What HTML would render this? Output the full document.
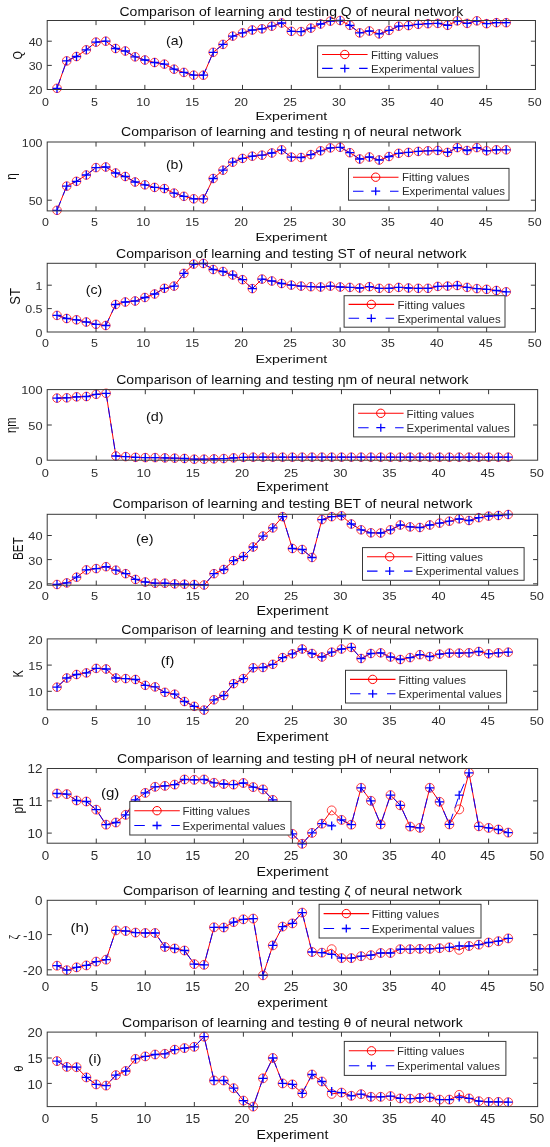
<!DOCTYPE html>
<html><head><meta charset="utf-8"><title>Comparison of learning and testing of neural network</title>
<style>
html,body{margin:0;padding:0;background:#fff}
svg{display:block;font-family:"Liberation Sans",sans-serif}
</style></head>
<body>
<svg width="550" height="1147" viewBox="0 0 550 1147">
<defs><filter id="soft" x="0" y="0" width="550" height="1147" filterUnits="userSpaceOnUse"><feGaussianBlur stdDeviation="0.42"/></filter></defs>
<rect width="550" height="1147" fill="#fff"/>
<g filter="url(#soft)">
<g id="panel1">
<text transform="translate(291.33 15.90) scale(1.169 1)" font-size="12.0" text-anchor="middle" fill="#111">Comparison of learning and testing Q of neural network</text>
<text transform="translate(291.33 120.20) scale(1.225 1)" font-size="11.6" text-anchor="middle" fill="#111">Experiment</text>
<text transform="translate(22.09 55.40) rotate(-90) scale(1 1.25)" font-size="10.8" text-anchor="middle" fill="#111">Q</text>
<text transform="translate(45.40 105.55) scale(1.100 1)" font-size="11.3" text-anchor="middle" fill="#2e2e2e">0</text>
<text transform="translate(94.33 105.55) scale(1.100 1)" font-size="11.3" text-anchor="middle" fill="#2e2e2e">5</text>
<text transform="translate(143.25 105.55) scale(1.100 1)" font-size="11.3" text-anchor="middle" fill="#2e2e2e">10</text>
<text transform="translate(192.18 105.55) scale(1.100 1)" font-size="11.3" text-anchor="middle" fill="#2e2e2e">15</text>
<text transform="translate(241.10 105.55) scale(1.100 1)" font-size="11.3" text-anchor="middle" fill="#2e2e2e">20</text>
<text transform="translate(290.03 105.55) scale(1.100 1)" font-size="11.3" text-anchor="middle" fill="#2e2e2e">25</text>
<text transform="translate(338.95 105.55) scale(1.100 1)" font-size="11.3" text-anchor="middle" fill="#2e2e2e">30</text>
<text transform="translate(387.88 105.55) scale(1.100 1)" font-size="11.3" text-anchor="middle" fill="#2e2e2e">35</text>
<text transform="translate(436.80 105.55) scale(1.100 1)" font-size="11.3" text-anchor="middle" fill="#2e2e2e">40</text>
<text transform="translate(485.73 105.55) scale(1.100 1)" font-size="11.3" text-anchor="middle" fill="#2e2e2e">45</text>
<text transform="translate(534.65 105.55) scale(1.100 1)" font-size="11.3" text-anchor="middle" fill="#2e2e2e">50</text>
<text transform="translate(42.50 94.45) scale(1.100 1)" font-size="11.3" text-anchor="end" fill="#2e2e2e">20</text>
<text transform="translate(42.50 70.25) scale(1.100 1)" font-size="11.3" text-anchor="end" fill="#2e2e2e">30</text>
<text transform="translate(42.50 46.05) scale(1.100 1)" font-size="11.3" text-anchor="end" fill="#2e2e2e">40</text>
<path d="M96.03 89.5v-4.6M96.03 20.5v4.6M144.85 89.5v-4.6M144.85 20.5v4.6M193.68 89.5v-4.6M193.68 20.5v4.6M242.50 89.5v-4.6M242.50 20.5v4.6M291.33 89.5v-4.6M291.33 20.5v4.6M340.15 89.5v-4.6M340.15 20.5v4.6M388.98 89.5v-4.6M388.98 20.5v4.6M437.80 89.5v-4.6M437.80 20.5v4.6M486.63 89.5v-4.6M486.63 20.5v4.6M47.2 65.4h4.6M535.45 65.4h-4.6M47.2 41.2h4.6M535.45 41.2h-4.6" stroke="#383838" stroke-width="1" fill="none"/>
<polyline fill="none" stroke="#f00" stroke-width="1" points="57.0,88.3 66.7,60.9 76.5,56.5 86.3,49.8 96.0,42.1 105.8,41.2 115.6,48.5 125.3,51.0 135.1,56.8 144.9,60.0 154.6,62.5 164.4,64.1 174.1,69.2 183.9,72.4 193.7,75.2 203.4,75.2 213.2,52.3 223.0,44.4 232.7,36.1 242.5,32.9 252.3,30.0 262.0,28.8 271.8,26.2 281.6,23.0 291.3,31.3 301.1,31.6 310.9,28.1 320.6,24.0 330.4,21.1 340.2,20.5 349.9,25.3 359.7,32.9 369.4,31.0 379.2,33.9 389.0,30.4 398.7,26.2 408.5,25.6 418.3,24.3 428.0,23.7 437.8,23.4 447.6,25.3 457.3,20.8 467.1,23.4 476.9,20.8 486.6,23.7 496.4,22.7 506.2,22.7"/>
<polyline fill="none" stroke="#00f" stroke-width="1" stroke-dasharray="10 6" points="57.0,88.3 66.7,60.9 76.5,56.5 86.3,49.8 96.0,42.1 105.8,41.2 115.6,48.5 125.3,51.0 135.1,56.8 144.9,60.0 154.6,62.5 164.4,64.1 174.1,69.2 183.9,72.4 193.7,75.2 203.4,75.2 213.2,52.3 223.0,44.4 232.7,36.1 242.5,32.9 252.3,30.0 262.0,28.8 271.8,26.2 281.6,23.0 291.3,31.3 301.1,31.6 310.9,28.1 320.6,24.0 330.4,21.1 340.2,20.5 349.9,25.3 359.7,32.9 369.4,31.0 379.2,33.9 389.0,30.4 398.7,26.2 408.5,25.6 418.3,24.3 428.0,23.7 437.8,23.4 447.6,25.3 457.3,20.8 467.1,23.4 476.9,20.8 486.6,23.7 496.4,22.7 506.2,22.7"/>
<g fill="none" stroke="#f22" stroke-width="0.85"><circle cx="57.0" cy="88.3" r="4.3"/><circle cx="66.7" cy="60.9" r="4.3"/><circle cx="76.5" cy="56.5" r="4.3"/><circle cx="86.3" cy="49.8" r="4.3"/><circle cx="96.0" cy="42.1" r="4.3"/><circle cx="105.8" cy="41.2" r="4.3"/><circle cx="115.6" cy="48.5" r="4.3"/><circle cx="125.3" cy="51.0" r="4.3"/><circle cx="135.1" cy="56.8" r="4.3"/><circle cx="144.9" cy="60.0" r="4.3"/><circle cx="154.6" cy="62.5" r="4.3"/><circle cx="164.4" cy="64.1" r="4.3"/><circle cx="174.1" cy="69.2" r="4.3"/><circle cx="183.9" cy="72.4" r="4.3"/><circle cx="193.7" cy="75.2" r="4.3"/><circle cx="203.4" cy="75.2" r="4.3"/><circle cx="213.2" cy="52.3" r="4.3"/><circle cx="223.0" cy="44.4" r="4.3"/><circle cx="232.7" cy="36.1" r="4.3"/><circle cx="242.5" cy="32.9" r="4.3"/><circle cx="252.3" cy="30.0" r="4.3"/><circle cx="262.0" cy="28.8" r="4.3"/><circle cx="271.8" cy="26.2" r="4.3"/><circle cx="281.6" cy="23.0" r="4.3"/><circle cx="291.3" cy="31.3" r="4.3"/><circle cx="301.1" cy="31.6" r="4.3"/><circle cx="310.9" cy="28.1" r="4.3"/><circle cx="320.6" cy="24.0" r="4.3"/><circle cx="330.4" cy="21.1" r="4.3"/><circle cx="340.2" cy="20.5" r="4.3"/><circle cx="349.9" cy="25.3" r="4.3"/><circle cx="359.7" cy="32.9" r="4.3"/><circle cx="369.4" cy="31.0" r="4.3"/><circle cx="379.2" cy="33.9" r="4.3"/><circle cx="389.0" cy="30.4" r="4.3"/><circle cx="398.7" cy="26.2" r="4.3"/><circle cx="408.5" cy="25.6" r="4.3"/><circle cx="418.3" cy="24.3" r="4.3"/><circle cx="428.0" cy="23.7" r="4.3"/><circle cx="437.8" cy="23.4" r="4.3"/><circle cx="447.6" cy="25.3" r="4.3"/><circle cx="457.3" cy="20.8" r="4.3"/><circle cx="467.1" cy="23.4" r="4.3"/><circle cx="476.9" cy="20.8" r="4.3"/><circle cx="486.6" cy="23.7" r="4.3"/><circle cx="496.4" cy="22.7" r="4.3"/><circle cx="506.2" cy="22.7" r="4.3"/></g>
<path fill="none" stroke="#00f" stroke-width="1.3" d="M52.6 88.3h8.8M57.0 83.9v8.8M62.3 60.9h8.8M66.7 56.5v8.8M72.1 56.5h8.8M76.5 52.1v8.8M81.9 49.8h8.8M86.3 45.4v8.8M91.6 42.1h8.8M96.0 37.7v8.8M101.4 41.2h8.8M105.8 36.8v8.8M111.2 48.5h8.8M115.6 44.1v8.8M120.9 51.0h8.8M125.3 46.6v8.8M130.7 56.8h8.8M135.1 52.4v8.8M140.5 60.0h8.8M144.9 55.6v8.8M150.2 62.5h8.8M154.6 58.1v8.8M160.0 64.1h8.8M164.4 59.7v8.8M169.7 69.2h8.8M174.1 64.8v8.8M179.5 72.4h8.8M183.9 68.0v8.8M189.3 75.2h8.8M193.7 70.8v8.8M199.0 75.2h8.8M203.4 70.8v8.8M208.8 52.3h8.8M213.2 47.9v8.8M218.6 44.4h8.8M223.0 40.0v8.8M228.3 36.1h8.8M232.7 31.7v8.8M238.1 32.9h8.8M242.5 28.5v8.8M247.9 30.0h8.8M252.3 25.6v8.8M257.6 28.8h8.8M262.0 24.4v8.8M267.4 26.2h8.8M271.8 21.8v8.8M277.2 23.0h8.8M281.6 18.6v8.8M286.9 31.3h8.8M291.3 26.9v8.8M296.7 31.6h8.8M301.1 27.2v8.8M306.5 28.1h8.8M310.9 23.7v8.8M316.2 24.0h8.8M320.6 19.6v8.8M326.0 21.1h8.8M330.4 16.7v8.8M335.8 20.5h8.8M340.2 16.1v8.8M345.5 25.3h8.8M349.9 20.9v8.8M355.3 32.9h8.8M359.7 28.5v8.8M365.0 31.0h8.8M369.4 26.6v8.8M374.8 33.9h8.8M379.2 29.5v8.8M384.6 30.4h8.8M389.0 26.0v8.8M394.3 26.2h8.8M398.7 21.8v8.8M404.1 25.6h8.8M408.5 21.2v8.8M413.9 24.3h8.8M418.3 19.9v8.8M423.6 23.7h8.8M428.0 19.3v8.8M433.4 23.4h8.8M437.8 19.0v8.8M443.2 25.3h8.8M447.6 20.9v8.8M452.9 20.8h8.8M457.3 16.4v8.8M462.7 23.4h8.8M467.1 19.0v8.8M472.5 20.8h8.8M476.9 16.4v8.8M482.2 23.7h8.8M486.6 19.3v8.8M492.0 22.7h8.8M496.4 18.3v8.8M501.8 22.7h8.8M506.2 18.3v8.8"/>
<rect x="47.2" y="20.5" width="488.25" height="69.00" fill="none" stroke="#383838" stroke-width="1"/>
<text transform="translate(174.70 44.70) scale(1.100 1)" font-size="12.8" text-anchor="middle" fill="#111">(a)</text>
<rect x="317.6" y="45.8" width="161.60" height="31.50" fill="#fff" stroke="#383838" stroke-width="1"/>
<path d="M322.1 54.5H367.6" stroke="#f00" stroke-width="1.1"/>
<circle cx="344.8" cy="54.5" r="4.2" fill="none" stroke="#f00" stroke-width="1"/>
<path d="M322.1 68.4h10.5M359.1 68.4H367.6" stroke="#00f" stroke-width="1.1"/>
<path d="M340.3 68.4h9M344.8 64.4v8" stroke="#00f" stroke-width="1.3"/>
<text transform="translate(371.00 58.73) scale(1.147 1)" font-size="10.0" text-anchor="start" fill="#2e2e2e">Fitting values</text>
<text transform="translate(371.00 72.62) scale(1.147 1)" font-size="10.0" text-anchor="start" fill="#2e2e2e">Experimental values</text>
</g>
<g id="panel2">
<text transform="translate(291.33 135.80) scale(1.169 1)" font-size="12.0" text-anchor="middle" fill="#111">Comparison of learning and testing η of neural network</text>
<text transform="translate(291.33 240.60) scale(1.225 1)" font-size="11.6" text-anchor="middle" fill="#111">Experiment</text>
<text transform="translate(16.12 176.45) rotate(-90) scale(1 1.3)" font-size="11.5" text-anchor="middle" fill="#111">η</text>
<text transform="translate(45.40 225.65) scale(1.100 1)" font-size="11.3" text-anchor="middle" fill="#2e2e2e">0</text>
<text transform="translate(94.33 225.65) scale(1.100 1)" font-size="11.3" text-anchor="middle" fill="#2e2e2e">5</text>
<text transform="translate(143.25 225.65) scale(1.100 1)" font-size="11.3" text-anchor="middle" fill="#2e2e2e">10</text>
<text transform="translate(192.18 225.65) scale(1.100 1)" font-size="11.3" text-anchor="middle" fill="#2e2e2e">15</text>
<text transform="translate(241.10 225.65) scale(1.100 1)" font-size="11.3" text-anchor="middle" fill="#2e2e2e">20</text>
<text transform="translate(290.03 225.65) scale(1.100 1)" font-size="11.3" text-anchor="middle" fill="#2e2e2e">25</text>
<text transform="translate(338.95 225.65) scale(1.100 1)" font-size="11.3" text-anchor="middle" fill="#2e2e2e">30</text>
<text transform="translate(387.88 225.65) scale(1.100 1)" font-size="11.3" text-anchor="middle" fill="#2e2e2e">35</text>
<text transform="translate(436.80 225.65) scale(1.100 1)" font-size="11.3" text-anchor="middle" fill="#2e2e2e">40</text>
<text transform="translate(485.73 225.65) scale(1.100 1)" font-size="11.3" text-anchor="middle" fill="#2e2e2e">45</text>
<text transform="translate(534.65 225.65) scale(1.100 1)" font-size="11.3" text-anchor="middle" fill="#2e2e2e">50</text>
<text transform="translate(42.50 205.05) scale(1.100 1)" font-size="11.3" text-anchor="end" fill="#2e2e2e">50</text>
<text transform="translate(42.50 146.85) scale(1.100 1)" font-size="11.3" text-anchor="end" fill="#2e2e2e">100</text>
<path d="M96.03 210.9v-4.6M96.03 142.0v4.6M144.85 210.9v-4.6M144.85 142.0v4.6M193.68 210.9v-4.6M193.68 142.0v4.6M242.50 210.9v-4.6M242.50 142.0v4.6M291.33 210.9v-4.6M291.33 142.0v4.6M340.15 210.9v-4.6M340.15 142.0v4.6M388.98 210.9v-4.6M388.98 142.0v4.6M437.80 210.9v-4.6M437.80 142.0v4.6M486.63 210.9v-4.6M486.63 142.0v4.6M47.2 200.2h4.6M535.45 200.2h-4.6" stroke="#383838" stroke-width="1" fill="none"/>
<polyline fill="none" stroke="#f00" stroke-width="1" points="57.0,210.3 66.7,186.1 76.5,181.3 86.3,175.0 96.0,167.6 105.8,167.0 115.6,173.0 125.3,176.5 135.1,182.0 144.9,184.8 154.6,187.4 164.4,188.6 174.1,193.1 183.9,196.3 193.7,198.8 203.4,198.9 213.2,178.5 223.0,170.2 232.7,162.2 242.5,158.4 252.3,156.2 262.0,155.2 271.8,153.0 281.6,149.8 291.3,157.1 301.1,157.5 310.9,154.6 320.6,150.8 330.4,147.9 340.2,147.3 349.9,152.7 359.7,159.0 369.4,157.0 379.2,160.0 389.0,156.5 398.7,153.3 408.5,152.4 418.3,151.4 428.0,150.8 437.8,150.5 447.6,152.4 457.3,147.6 467.1,150.5 476.9,147.6 486.6,150.8 496.4,149.8 506.2,149.8"/>
<polyline fill="none" stroke="#00f" stroke-width="1" stroke-dasharray="10 6" points="57.0,210.3 66.7,186.1 76.5,181.3 86.3,175.0 96.0,167.6 105.8,167.0 115.6,173.0 125.3,176.5 135.1,182.0 144.9,184.8 154.6,187.4 164.4,188.6 174.1,193.1 183.9,196.3 193.7,198.8 203.4,198.9 213.2,178.5 223.0,170.2 232.7,162.2 242.5,158.4 252.3,156.2 262.0,155.2 271.8,153.0 281.6,149.8 291.3,157.1 301.1,157.5 310.9,154.6 320.6,150.8 330.4,147.9 340.2,147.3 349.9,152.7 359.7,159.0 369.4,157.0 379.2,160.0 389.0,156.5 398.7,153.3 408.5,152.4 418.3,151.4 428.0,150.8 437.8,150.5 447.6,152.4 457.3,147.6 467.1,150.5 476.9,147.6 486.6,150.8 496.4,149.8 506.2,149.8"/>
<g fill="none" stroke="#f22" stroke-width="0.85"><circle cx="57.0" cy="210.3" r="4.3"/><circle cx="66.7" cy="186.1" r="4.3"/><circle cx="76.5" cy="181.3" r="4.3"/><circle cx="86.3" cy="175.0" r="4.3"/><circle cx="96.0" cy="167.6" r="4.3"/><circle cx="105.8" cy="167.0" r="4.3"/><circle cx="115.6" cy="173.0" r="4.3"/><circle cx="125.3" cy="176.5" r="4.3"/><circle cx="135.1" cy="182.0" r="4.3"/><circle cx="144.9" cy="184.8" r="4.3"/><circle cx="154.6" cy="187.4" r="4.3"/><circle cx="164.4" cy="188.6" r="4.3"/><circle cx="174.1" cy="193.1" r="4.3"/><circle cx="183.9" cy="196.3" r="4.3"/><circle cx="193.7" cy="198.8" r="4.3"/><circle cx="203.4" cy="198.9" r="4.3"/><circle cx="213.2" cy="178.5" r="4.3"/><circle cx="223.0" cy="170.2" r="4.3"/><circle cx="232.7" cy="162.2" r="4.3"/><circle cx="242.5" cy="158.4" r="4.3"/><circle cx="252.3" cy="156.2" r="4.3"/><circle cx="262.0" cy="155.2" r="4.3"/><circle cx="271.8" cy="153.0" r="4.3"/><circle cx="281.6" cy="149.8" r="4.3"/><circle cx="291.3" cy="157.1" r="4.3"/><circle cx="301.1" cy="157.5" r="4.3"/><circle cx="310.9" cy="154.6" r="4.3"/><circle cx="320.6" cy="150.8" r="4.3"/><circle cx="330.4" cy="147.9" r="4.3"/><circle cx="340.2" cy="147.3" r="4.3"/><circle cx="349.9" cy="152.7" r="4.3"/><circle cx="359.7" cy="159.0" r="4.3"/><circle cx="369.4" cy="157.0" r="4.3"/><circle cx="379.2" cy="160.0" r="4.3"/><circle cx="389.0" cy="156.5" r="4.3"/><circle cx="398.7" cy="153.3" r="4.3"/><circle cx="408.5" cy="152.4" r="4.3"/><circle cx="418.3" cy="151.4" r="4.3"/><circle cx="428.0" cy="150.8" r="4.3"/><circle cx="437.8" cy="150.5" r="4.3"/><circle cx="447.6" cy="152.4" r="4.3"/><circle cx="457.3" cy="147.6" r="4.3"/><circle cx="467.1" cy="150.5" r="4.3"/><circle cx="476.9" cy="147.6" r="4.3"/><circle cx="486.6" cy="150.8" r="4.3"/><circle cx="496.4" cy="149.8" r="4.3"/><circle cx="506.2" cy="149.8" r="4.3"/></g>
<path fill="none" stroke="#00f" stroke-width="1.3" d="M52.6 210.3h8.8M57.0 205.9v8.8M62.3 186.1h8.8M66.7 181.7v8.8M72.1 181.3h8.8M76.5 176.9v8.8M81.9 175.0h8.8M86.3 170.6v8.8M91.6 167.6h8.8M96.0 163.2v8.8M101.4 167.0h8.8M105.8 162.6v8.8M111.2 173.0h8.8M115.6 168.6v8.8M120.9 176.5h8.8M125.3 172.1v8.8M130.7 182.0h8.8M135.1 177.6v8.8M140.5 184.8h8.8M144.9 180.4v8.8M150.2 187.4h8.8M154.6 183.0v8.8M160.0 188.6h8.8M164.4 184.2v8.8M169.7 193.1h8.8M174.1 188.7v8.8M179.5 196.3h8.8M183.9 191.9v8.8M189.3 198.8h8.8M193.7 194.4v8.8M199.0 198.9h8.8M203.4 194.5v8.8M208.8 178.5h8.8M213.2 174.1v8.8M218.6 170.2h8.8M223.0 165.8v8.8M228.3 162.2h8.8M232.7 157.8v8.8M238.1 158.4h8.8M242.5 154.0v8.8M247.9 156.2h8.8M252.3 151.8v8.8M257.6 155.2h8.8M262.0 150.8v8.8M267.4 153.0h8.8M271.8 148.6v8.8M277.2 149.8h8.8M281.6 145.4v8.8M286.9 157.1h8.8M291.3 152.7v8.8M296.7 157.5h8.8M301.1 153.1v8.8M306.5 154.6h8.8M310.9 150.2v8.8M316.2 150.8h8.8M320.6 146.4v8.8M326.0 147.9h8.8M330.4 143.5v8.8M335.8 147.3h8.8M340.2 142.9v8.8M345.5 152.7h8.8M349.9 148.3v8.8M355.3 159.0h8.8M359.7 154.6v8.8M365.0 157.0h8.8M369.4 152.6v8.8M374.8 160.0h8.8M379.2 155.6v8.8M384.6 156.5h8.8M389.0 152.1v8.8M394.3 153.3h8.8M398.7 148.9v8.8M404.1 152.4h8.8M408.5 148.0v8.8M413.9 151.4h8.8M418.3 147.0v8.8M423.6 150.8h8.8M428.0 146.4v8.8M433.4 150.5h8.8M437.8 146.1v8.8M443.2 152.4h8.8M447.6 148.0v8.8M452.9 147.6h8.8M457.3 143.2v8.8M462.7 150.5h8.8M467.1 146.1v8.8M472.5 147.6h8.8M476.9 143.2v8.8M482.2 150.8h8.8M486.6 146.4v8.8M492.0 149.8h8.8M496.4 145.4v8.8M501.8 149.8h8.8M506.2 145.4v8.8"/>
<rect x="47.2" y="142.0" width="488.25" height="68.90" fill="none" stroke="#383838" stroke-width="1"/>
<text transform="translate(174.50 168.90) scale(1.100 1)" font-size="12.8" text-anchor="middle" fill="#111">(b)</text>
<rect x="348.5" y="168.4" width="160.50" height="31.80" fill="#fff" stroke="#383838" stroke-width="1"/>
<path d="M353.0 177.2H398.5" stroke="#f00" stroke-width="1.1"/>
<circle cx="375.7" cy="177.2" r="4.2" fill="none" stroke="#f00" stroke-width="1"/>
<path d="M353.0 191.2h10.5M390.0 191.2H398.5" stroke="#00f" stroke-width="1.1"/>
<path d="M371.2 191.2h9M375.7 187.2v8" stroke="#00f" stroke-width="1.3"/>
<text transform="translate(401.90 181.41) scale(1.147 1)" font-size="10.0" text-anchor="start" fill="#2e2e2e">Fitting values</text>
<text transform="translate(401.90 195.43) scale(1.147 1)" font-size="10.0" text-anchor="start" fill="#2e2e2e">Experimental values</text>
</g>
<g id="panel3">
<text transform="translate(291.33 258.30) scale(1.169 1)" font-size="12.0" text-anchor="middle" fill="#111">Comparison of learning and testing ST of neural network</text>
<text transform="translate(291.33 362.60) scale(1.225 1)" font-size="11.6" text-anchor="middle" fill="#111">Experiment</text>
<text transform="translate(19.85 296.45) rotate(-90) scale(1 1.15)" font-size="13.0" text-anchor="middle" fill="#111">ST</text>
<text transform="translate(45.40 347.45) scale(1.100 1)" font-size="11.3" text-anchor="middle" fill="#2e2e2e">0</text>
<text transform="translate(94.33 347.45) scale(1.100 1)" font-size="11.3" text-anchor="middle" fill="#2e2e2e">5</text>
<text transform="translate(143.25 347.45) scale(1.100 1)" font-size="11.3" text-anchor="middle" fill="#2e2e2e">10</text>
<text transform="translate(192.18 347.45) scale(1.100 1)" font-size="11.3" text-anchor="middle" fill="#2e2e2e">15</text>
<text transform="translate(241.10 347.45) scale(1.100 1)" font-size="11.3" text-anchor="middle" fill="#2e2e2e">20</text>
<text transform="translate(290.03 347.45) scale(1.100 1)" font-size="11.3" text-anchor="middle" fill="#2e2e2e">25</text>
<text transform="translate(338.95 347.45) scale(1.100 1)" font-size="11.3" text-anchor="middle" fill="#2e2e2e">30</text>
<text transform="translate(387.88 347.45) scale(1.100 1)" font-size="11.3" text-anchor="middle" fill="#2e2e2e">35</text>
<text transform="translate(436.80 347.45) scale(1.100 1)" font-size="11.3" text-anchor="middle" fill="#2e2e2e">40</text>
<text transform="translate(485.73 347.45) scale(1.100 1)" font-size="11.3" text-anchor="middle" fill="#2e2e2e">45</text>
<text transform="translate(534.65 347.45) scale(1.100 1)" font-size="11.3" text-anchor="middle" fill="#2e2e2e">50</text>
<text transform="translate(42.50 336.65) scale(1.100 1)" font-size="11.3" text-anchor="end" fill="#2e2e2e">0</text>
<text transform="translate(42.50 313.45) scale(1.100 1)" font-size="11.3" text-anchor="end" fill="#2e2e2e">0.5</text>
<text transform="translate(42.50 290.05) scale(1.100 1)" font-size="11.3" text-anchor="end" fill="#2e2e2e">1</text>
<path d="M96.03 332.0v-4.6M96.03 263.3v4.6M144.85 332.0v-4.6M144.85 263.3v4.6M193.68 332.0v-4.6M193.68 263.3v4.6M242.50 332.0v-4.6M242.50 263.3v4.6M291.33 332.0v-4.6M291.33 263.3v4.6M340.15 332.0v-4.6M340.15 263.3v4.6M388.98 332.0v-4.6M388.98 263.3v4.6M437.80 332.0v-4.6M437.80 263.3v4.6M486.63 332.0v-4.6M486.63 263.3v4.6M47.2 308.6h4.6M535.45 308.6h-4.6M47.2 285.2h4.6M535.45 285.2h-4.6" stroke="#383838" stroke-width="1" fill="none"/>
<polyline fill="none" stroke="#f00" stroke-width="1" points="57.0,315.4 66.7,318.5 76.5,319.8 86.3,322.0 96.0,324.3 105.8,325.5 115.6,304.5 125.3,302.0 135.1,301.0 144.9,297.5 154.6,294.0 164.4,288.3 174.1,286.1 183.9,273.4 193.7,264.1 203.4,263.5 213.2,269.5 223.0,271.5 232.7,275.0 242.5,279.7 252.3,288.6 262.0,279.1 271.8,281.0 281.6,283.5 291.3,285.1 301.1,286.1 310.9,286.7 320.6,287.0 330.4,286.1 340.2,287.0 349.9,287.4 359.7,288.0 369.4,286.7 379.2,288.3 389.0,288.3 398.7,287.4 408.5,288.0 418.3,288.3 428.0,288.3 437.8,286.4 447.6,286.1 457.3,285.5 467.1,287.4 476.9,288.6 486.6,289.3 496.4,290.5 506.2,291.8"/>
<polyline fill="none" stroke="#00f" stroke-width="1" stroke-dasharray="10 6" points="57.0,315.4 66.7,318.5 76.5,319.8 86.3,322.0 96.0,324.3 105.8,325.5 115.6,304.5 125.3,302.0 135.1,301.0 144.9,297.5 154.6,294.0 164.4,288.3 174.1,286.1 183.9,273.4 193.7,264.1 203.4,263.5 213.2,269.5 223.0,271.5 232.7,275.0 242.5,279.7 252.3,288.6 262.0,279.1 271.8,281.0 281.6,283.5 291.3,285.1 301.1,286.1 310.9,286.7 320.6,287.0 330.4,286.1 340.2,287.0 349.9,287.4 359.7,288.0 369.4,286.7 379.2,288.3 389.0,288.3 398.7,287.4 408.5,288.0 418.3,288.3 428.0,288.3 437.8,286.4 447.6,286.1 457.3,285.5 467.1,287.4 476.9,288.6 486.6,289.3 496.4,290.5 506.2,291.8"/>
<g fill="none" stroke="#f22" stroke-width="0.85"><circle cx="57.0" cy="315.4" r="4.3"/><circle cx="66.7" cy="318.5" r="4.3"/><circle cx="76.5" cy="319.8" r="4.3"/><circle cx="86.3" cy="322.0" r="4.3"/><circle cx="96.0" cy="324.3" r="4.3"/><circle cx="105.8" cy="325.5" r="4.3"/><circle cx="115.6" cy="304.5" r="4.3"/><circle cx="125.3" cy="302.0" r="4.3"/><circle cx="135.1" cy="301.0" r="4.3"/><circle cx="144.9" cy="297.5" r="4.3"/><circle cx="154.6" cy="294.0" r="4.3"/><circle cx="164.4" cy="288.3" r="4.3"/><circle cx="174.1" cy="286.1" r="4.3"/><circle cx="183.9" cy="273.4" r="4.3"/><circle cx="193.7" cy="264.1" r="4.3"/><circle cx="203.4" cy="263.5" r="4.3"/><circle cx="213.2" cy="269.5" r="4.3"/><circle cx="223.0" cy="271.5" r="4.3"/><circle cx="232.7" cy="275.0" r="4.3"/><circle cx="242.5" cy="279.7" r="4.3"/><circle cx="252.3" cy="288.6" r="4.3"/><circle cx="262.0" cy="279.1" r="4.3"/><circle cx="271.8" cy="281.0" r="4.3"/><circle cx="281.6" cy="283.5" r="4.3"/><circle cx="291.3" cy="285.1" r="4.3"/><circle cx="301.1" cy="286.1" r="4.3"/><circle cx="310.9" cy="286.7" r="4.3"/><circle cx="320.6" cy="287.0" r="4.3"/><circle cx="330.4" cy="286.1" r="4.3"/><circle cx="340.2" cy="287.0" r="4.3"/><circle cx="349.9" cy="287.4" r="4.3"/><circle cx="359.7" cy="288.0" r="4.3"/><circle cx="369.4" cy="286.7" r="4.3"/><circle cx="379.2" cy="288.3" r="4.3"/><circle cx="389.0" cy="288.3" r="4.3"/><circle cx="398.7" cy="287.4" r="4.3"/><circle cx="408.5" cy="288.0" r="4.3"/><circle cx="418.3" cy="288.3" r="4.3"/><circle cx="428.0" cy="288.3" r="4.3"/><circle cx="437.8" cy="286.4" r="4.3"/><circle cx="447.6" cy="286.1" r="4.3"/><circle cx="457.3" cy="285.5" r="4.3"/><circle cx="467.1" cy="287.4" r="4.3"/><circle cx="476.9" cy="288.6" r="4.3"/><circle cx="486.6" cy="289.3" r="4.3"/><circle cx="496.4" cy="290.5" r="4.3"/><circle cx="506.2" cy="291.8" r="4.3"/></g>
<path fill="none" stroke="#00f" stroke-width="1.3" d="M52.6 315.4h8.8M57.0 311.0v8.8M62.3 318.5h8.8M66.7 314.1v8.8M72.1 319.8h8.8M76.5 315.4v8.8M81.9 322.0h8.8M86.3 317.6v8.8M91.6 324.3h8.8M96.0 319.9v8.8M101.4 325.5h8.8M105.8 321.1v8.8M111.2 304.5h8.8M115.6 300.1v8.8M120.9 302.0h8.8M125.3 297.6v8.8M130.7 301.0h8.8M135.1 296.6v8.8M140.5 297.5h8.8M144.9 293.1v8.8M150.2 294.0h8.8M154.6 289.6v8.8M160.0 288.3h8.8M164.4 283.9v8.8M169.7 286.1h8.8M174.1 281.7v8.8M179.5 273.4h8.8M183.9 269.0v8.8M189.3 264.1h8.8M193.7 259.7v8.8M199.0 263.5h8.8M203.4 259.1v8.8M208.8 269.5h8.8M213.2 265.1v8.8M218.6 271.5h8.8M223.0 267.1v8.8M228.3 275.0h8.8M232.7 270.6v8.8M238.1 279.7h8.8M242.5 275.3v8.8M247.9 288.6h8.8M252.3 284.2v8.8M257.6 279.1h8.8M262.0 274.7v8.8M267.4 281.0h8.8M271.8 276.6v8.8M277.2 283.5h8.8M281.6 279.1v8.8M286.9 285.1h8.8M291.3 280.7v8.8M296.7 286.1h8.8M301.1 281.7v8.8M306.5 286.7h8.8M310.9 282.3v8.8M316.2 287.0h8.8M320.6 282.6v8.8M326.0 286.1h8.8M330.4 281.7v8.8M335.8 287.0h8.8M340.2 282.6v8.8M345.5 287.4h8.8M349.9 283.0v8.8M355.3 288.0h8.8M359.7 283.6v8.8M365.0 286.7h8.8M369.4 282.3v8.8M374.8 288.3h8.8M379.2 283.9v8.8M384.6 288.3h8.8M389.0 283.9v8.8M394.3 287.4h8.8M398.7 283.0v8.8M404.1 288.0h8.8M408.5 283.6v8.8M413.9 288.3h8.8M418.3 283.9v8.8M423.6 288.3h8.8M428.0 283.9v8.8M433.4 286.4h8.8M437.8 282.0v8.8M443.2 286.1h8.8M447.6 281.7v8.8M452.9 285.5h8.8M457.3 281.1v8.8M462.7 287.4h8.8M467.1 283.0v8.8M472.5 288.6h8.8M476.9 284.2v8.8M482.2 289.3h8.8M486.6 284.9v8.8M492.0 290.5h8.8M496.4 286.1v8.8M501.8 291.8h8.8M506.2 287.4v8.8"/>
<rect x="47.2" y="263.3" width="488.25" height="68.70" fill="none" stroke="#383838" stroke-width="1"/>
<text transform="translate(94.00 294.30) scale(1.100 1)" font-size="12.8" text-anchor="middle" fill="#111">(c)</text>
<rect x="344.1" y="295.7" width="160.90" height="31.50" fill="#fff" stroke="#383838" stroke-width="1"/>
<path d="M348.6 304.4H394.1" stroke="#f00" stroke-width="1.1"/>
<circle cx="371.3" cy="304.4" r="4.2" fill="none" stroke="#f00" stroke-width="1"/>
<path d="M348.6 318.3h10.5M385.6 318.3H394.1" stroke="#00f" stroke-width="1.1"/>
<path d="M366.8 318.3h9M371.3 314.3v8" stroke="#00f" stroke-width="1.3"/>
<text transform="translate(397.50 308.63) scale(1.147 1)" font-size="10.0" text-anchor="start" fill="#2e2e2e">Fitting values</text>
<text transform="translate(397.50 322.52) scale(1.147 1)" font-size="10.0" text-anchor="start" fill="#2e2e2e">Experimental values</text>
</g>
<g id="panel4">
<text transform="translate(292.43 383.80) scale(1.141 1)" font-size="12.3" text-anchor="middle" fill="#111">Comparison of learning and testing ηm of neural network</text>
<text transform="translate(292.43 490.70) scale(1.195 1)" font-size="11.9" text-anchor="middle" fill="#111">Experiment</text>
<text transform="translate(15.97 425.30) rotate(-90) scale(1 1.25)" font-size="11.2" text-anchor="middle" fill="#111">ηm</text>
<text transform="translate(45.40 476.65) scale(1.100 1)" font-size="11.6" text-anchor="middle" fill="#2e2e2e">0</text>
<text transform="translate(94.55 476.65) scale(1.100 1)" font-size="11.6" text-anchor="middle" fill="#2e2e2e">5</text>
<text transform="translate(143.69 476.65) scale(1.100 1)" font-size="11.6" text-anchor="middle" fill="#2e2e2e">10</text>
<text transform="translate(192.83 476.65) scale(1.100 1)" font-size="11.6" text-anchor="middle" fill="#2e2e2e">15</text>
<text transform="translate(241.98 476.65) scale(1.100 1)" font-size="11.6" text-anchor="middle" fill="#2e2e2e">20</text>
<text transform="translate(291.12 476.65) scale(1.100 1)" font-size="11.6" text-anchor="middle" fill="#2e2e2e">25</text>
<text transform="translate(340.27 476.65) scale(1.100 1)" font-size="11.6" text-anchor="middle" fill="#2e2e2e">30</text>
<text transform="translate(389.41 476.65) scale(1.100 1)" font-size="11.6" text-anchor="middle" fill="#2e2e2e">35</text>
<text transform="translate(438.56 476.65) scale(1.100 1)" font-size="11.6" text-anchor="middle" fill="#2e2e2e">40</text>
<text transform="translate(487.70 476.65) scale(1.100 1)" font-size="11.6" text-anchor="middle" fill="#2e2e2e">45</text>
<text transform="translate(536.85 476.65) scale(1.100 1)" font-size="11.6" text-anchor="middle" fill="#2e2e2e">50</text>
<text transform="translate(42.50 465.15) scale(1.100 1)" font-size="11.6" text-anchor="end" fill="#2e2e2e">0</text>
<text transform="translate(42.50 429.95) scale(1.100 1)" font-size="11.6" text-anchor="end" fill="#2e2e2e">50</text>
<text transform="translate(42.50 394.35) scale(1.100 1)" font-size="11.6" text-anchor="end" fill="#2e2e2e">100</text>
<path d="M96.25 460.2v-4.6M96.25 389.6v4.6M145.29 460.2v-4.6M145.29 389.6v4.6M194.33 460.2v-4.6M194.33 389.6v4.6M243.38 460.2v-4.6M243.38 389.6v4.6M292.43 460.2v-4.6M292.43 389.6v4.6M341.47 460.2v-4.6M341.47 389.6v4.6M390.51 460.2v-4.6M390.51 389.6v4.6M439.56 460.2v-4.6M439.56 389.6v4.6M488.60 460.2v-4.6M488.60 389.6v4.6M47.2 425.0h4.6M537.65 425.0h-4.6" stroke="#383838" stroke-width="1" fill="none"/>
<polyline fill="none" stroke="#f00" stroke-width="1" points="57.0,398.1 66.8,397.8 76.6,396.8 86.4,396.5 96.2,394.3 106.1,393.3 115.9,456.0 125.7,456.6 135.5,457.3 145.3,457.6 155.1,457.6 164.9,457.9 174.7,458.2 184.5,458.5 194.3,459.2 204.1,459.2 214.0,458.9 223.8,458.6 233.6,457.9 243.4,457.3 253.2,457.2 263.0,457.2 272.8,457.2 282.6,457.2 292.4,457.2 302.2,457.2 312.0,457.2 321.9,457.2 331.7,457.2 341.5,457.2 351.3,457.2 361.1,457.2 370.9,457.2 380.7,457.2 390.5,457.2 400.3,457.2 410.1,457.2 419.9,457.2 429.8,457.2 439.6,457.2 449.4,457.2 459.2,457.2 469.0,457.2 478.8,457.2 488.6,457.2 498.4,457.2 508.2,457.2"/>
<polyline fill="none" stroke="#00f" stroke-width="1" stroke-dasharray="10 6" points="57.0,398.1 66.8,397.8 76.6,396.8 86.4,396.5 96.2,394.3 106.1,393.3 115.9,456.0 125.7,456.6 135.5,457.3 145.3,457.6 155.1,457.6 164.9,457.9 174.7,458.2 184.5,458.5 194.3,459.2 204.1,459.2 214.0,458.9 223.8,458.6 233.6,457.9 243.4,457.3 253.2,457.2 263.0,457.2 272.8,457.2 282.6,457.2 292.4,457.2 302.2,457.2 312.0,457.2 321.9,457.2 331.7,457.2 341.5,457.2 351.3,457.2 361.1,457.2 370.9,457.2 380.7,457.2 390.5,457.2 400.3,457.2 410.1,457.2 419.9,457.2 429.8,457.2 439.6,457.2 449.4,457.2 459.2,457.2 469.0,457.2 478.8,457.2 488.6,457.2 498.4,457.2 508.2,457.2"/>
<g fill="none" stroke="#f22" stroke-width="0.85"><circle cx="57.0" cy="398.1" r="4.3"/><circle cx="66.8" cy="397.8" r="4.3"/><circle cx="76.6" cy="396.8" r="4.3"/><circle cx="86.4" cy="396.5" r="4.3"/><circle cx="96.2" cy="394.3" r="4.3"/><circle cx="106.1" cy="393.3" r="4.3"/><circle cx="115.9" cy="456.0" r="4.3"/><circle cx="125.7" cy="456.6" r="4.3"/><circle cx="135.5" cy="457.3" r="4.3"/><circle cx="145.3" cy="457.6" r="4.3"/><circle cx="155.1" cy="457.6" r="4.3"/><circle cx="164.9" cy="457.9" r="4.3"/><circle cx="174.7" cy="458.2" r="4.3"/><circle cx="184.5" cy="458.5" r="4.3"/><circle cx="194.3" cy="459.2" r="4.3"/><circle cx="204.1" cy="459.2" r="4.3"/><circle cx="214.0" cy="458.9" r="4.3"/><circle cx="223.8" cy="458.6" r="4.3"/><circle cx="233.6" cy="457.9" r="4.3"/><circle cx="243.4" cy="457.3" r="4.3"/><circle cx="253.2" cy="457.2" r="4.3"/><circle cx="263.0" cy="457.2" r="4.3"/><circle cx="272.8" cy="457.2" r="4.3"/><circle cx="282.6" cy="457.2" r="4.3"/><circle cx="292.4" cy="457.2" r="4.3"/><circle cx="302.2" cy="457.2" r="4.3"/><circle cx="312.0" cy="457.2" r="4.3"/><circle cx="321.9" cy="457.2" r="4.3"/><circle cx="331.7" cy="457.2" r="4.3"/><circle cx="341.5" cy="457.2" r="4.3"/><circle cx="351.3" cy="457.2" r="4.3"/><circle cx="361.1" cy="457.2" r="4.3"/><circle cx="370.9" cy="457.2" r="4.3"/><circle cx="380.7" cy="457.2" r="4.3"/><circle cx="390.5" cy="457.2" r="4.3"/><circle cx="400.3" cy="457.2" r="4.3"/><circle cx="410.1" cy="457.2" r="4.3"/><circle cx="419.9" cy="457.2" r="4.3"/><circle cx="429.8" cy="457.2" r="4.3"/><circle cx="439.6" cy="457.2" r="4.3"/><circle cx="449.4" cy="457.2" r="4.3"/><circle cx="459.2" cy="457.2" r="4.3"/><circle cx="469.0" cy="457.2" r="4.3"/><circle cx="478.8" cy="457.2" r="4.3"/><circle cx="488.6" cy="457.2" r="4.3"/><circle cx="498.4" cy="457.2" r="4.3"/><circle cx="508.2" cy="457.2" r="4.3"/></g>
<path fill="none" stroke="#00f" stroke-width="1.3" d="M52.6 398.1h8.8M57.0 393.7v8.8M62.4 397.8h8.8M66.8 393.4v8.8M72.2 396.8h8.8M76.6 392.4v8.8M82.0 396.5h8.8M86.4 392.1v8.8M91.8 394.3h8.8M96.2 389.9v8.8M101.7 393.3h8.8M106.1 388.9v8.8M111.5 456.0h8.8M115.9 451.6v8.8M121.3 456.6h8.8M125.7 452.2v8.8M131.1 457.3h8.8M135.5 452.9v8.8M140.9 457.6h8.8M145.3 453.2v8.8M150.7 457.6h8.8M155.1 453.2v8.8M160.5 457.9h8.8M164.9 453.5v8.8M170.3 458.2h8.8M174.7 453.8v8.8M180.1 458.5h8.8M184.5 454.1v8.8M189.9 459.2h8.8M194.3 454.8v8.8M199.7 459.2h8.8M204.1 454.8v8.8M209.6 458.9h8.8M214.0 454.5v8.8M219.4 458.6h8.8M223.8 454.2v8.8M229.2 457.9h8.8M233.6 453.5v8.8M239.0 457.3h8.8M243.4 452.9v8.8M248.8 457.2h8.8M253.2 452.8v8.8M258.6 457.2h8.8M263.0 452.8v8.8M268.4 457.2h8.8M272.8 452.8v8.8M278.2 457.2h8.8M282.6 452.8v8.8M288.0 457.2h8.8M292.4 452.8v8.8M297.8 457.2h8.8M302.2 452.8v8.8M307.6 457.2h8.8M312.0 452.8v8.8M317.5 457.2h8.8M321.9 452.8v8.8M327.3 457.2h8.8M331.7 452.8v8.8M337.1 457.2h8.8M341.5 452.8v8.8M346.9 457.2h8.8M351.3 452.8v8.8M356.7 457.2h8.8M361.1 452.8v8.8M366.5 457.2h8.8M370.9 452.8v8.8M376.3 457.2h8.8M380.7 452.8v8.8M386.1 457.2h8.8M390.5 452.8v8.8M395.9 457.2h8.8M400.3 452.8v8.8M405.7 457.2h8.8M410.1 452.8v8.8M415.5 457.2h8.8M419.9 452.8v8.8M425.4 457.2h8.8M429.8 452.8v8.8M435.2 457.2h8.8M439.6 452.8v8.8M445.0 457.2h8.8M449.4 452.8v8.8M454.8 457.2h8.8M459.2 452.8v8.8M464.6 457.2h8.8M469.0 452.8v8.8M474.4 457.2h8.8M478.8 452.8v8.8M484.2 457.2h8.8M488.6 452.8v8.8M494.0 457.2h8.8M498.4 452.8v8.8M503.8 457.2h8.8M508.2 452.8v8.8"/>
<rect x="47.2" y="389.6" width="490.45" height="70.60" fill="none" stroke="#383838" stroke-width="1"/>
<text transform="translate(154.80 421.00) scale(1.100 1)" font-size="13.100000000000001" text-anchor="middle" fill="#111">(d)</text>
<rect x="353.6" y="404.3" width="161.00" height="32.60" fill="#fff" stroke="#383838" stroke-width="1"/>
<path d="M358.1 413.3H403.6" stroke="#f00" stroke-width="1.1"/>
<circle cx="380.8" cy="413.3" r="4.2" fill="none" stroke="#f00" stroke-width="1"/>
<path d="M358.1 427.7h10.5M395.1 427.7H403.6" stroke="#00f" stroke-width="1.1"/>
<path d="M376.3 427.7h9M380.8 423.7v8" stroke="#00f" stroke-width="1.3"/>
<text transform="translate(406.60 417.63) scale(1.125 1)" font-size="10.2" text-anchor="start" fill="#2e2e2e">Fitting values</text>
<text transform="translate(406.60 432.01) scale(1.125 1)" font-size="10.2" text-anchor="start" fill="#2e2e2e">Experimental values</text>
</g>
<g id="panel5">
<text transform="translate(292.43 507.70) scale(1.141 1)" font-size="12.3" text-anchor="middle" fill="#111">Comparison of learning and testing BET of neural network</text>
<text transform="translate(292.43 615.30) scale(1.195 1)" font-size="11.9" text-anchor="middle" fill="#111">Experiment</text>
<text transform="translate(23.17 548.65) rotate(-90) scale(1 1.2)" font-size="11.8" text-anchor="middle" fill="#111">BET</text>
<text transform="translate(45.40 600.35) scale(1.100 1)" font-size="11.6" text-anchor="middle" fill="#2e2e2e">0</text>
<text transform="translate(94.55 600.35) scale(1.100 1)" font-size="11.6" text-anchor="middle" fill="#2e2e2e">5</text>
<text transform="translate(143.69 600.35) scale(1.100 1)" font-size="11.6" text-anchor="middle" fill="#2e2e2e">10</text>
<text transform="translate(192.83 600.35) scale(1.100 1)" font-size="11.6" text-anchor="middle" fill="#2e2e2e">15</text>
<text transform="translate(241.98 600.35) scale(1.100 1)" font-size="11.6" text-anchor="middle" fill="#2e2e2e">20</text>
<text transform="translate(291.12 600.35) scale(1.100 1)" font-size="11.6" text-anchor="middle" fill="#2e2e2e">25</text>
<text transform="translate(340.27 600.35) scale(1.100 1)" font-size="11.6" text-anchor="middle" fill="#2e2e2e">30</text>
<text transform="translate(389.41 600.35) scale(1.100 1)" font-size="11.6" text-anchor="middle" fill="#2e2e2e">35</text>
<text transform="translate(438.56 600.35) scale(1.100 1)" font-size="11.6" text-anchor="middle" fill="#2e2e2e">40</text>
<text transform="translate(487.70 600.35) scale(1.100 1)" font-size="11.6" text-anchor="middle" fill="#2e2e2e">45</text>
<text transform="translate(536.85 600.35) scale(1.100 1)" font-size="11.6" text-anchor="middle" fill="#2e2e2e">50</text>
<text transform="translate(42.50 588.75) scale(1.100 1)" font-size="11.6" text-anchor="end" fill="#2e2e2e">20</text>
<text transform="translate(42.50 564.55) scale(1.100 1)" font-size="11.6" text-anchor="end" fill="#2e2e2e">30</text>
<text transform="translate(42.50 540.45) scale(1.100 1)" font-size="11.6" text-anchor="end" fill="#2e2e2e">40</text>
<path d="M96.25 585.2v-4.6M96.25 514.3v4.6M145.29 585.2v-4.6M145.29 514.3v4.6M194.33 585.2v-4.6M194.33 514.3v4.6M243.38 585.2v-4.6M243.38 514.3v4.6M292.43 585.2v-4.6M292.43 514.3v4.6M341.47 585.2v-4.6M341.47 514.3v4.6M390.51 585.2v-4.6M390.51 514.3v4.6M439.56 585.2v-4.6M439.56 514.3v4.6M488.60 585.2v-4.6M488.60 514.3v4.6M47.2 583.8h4.6M537.65 583.8h-4.6M47.2 559.6h4.6M537.65 559.6h-4.6M47.2 535.5h4.6M537.65 535.5h-4.6" stroke="#383838" stroke-width="1" fill="none"/>
<polyline fill="none" stroke="#f00" stroke-width="1" points="57.0,584.5 66.8,582.9 76.6,577.2 86.4,569.9 96.2,568.6 106.1,566.7 115.9,570.2 125.7,573.7 135.5,579.4 145.3,582.0 155.1,583.2 164.9,583.2 174.7,583.9 184.5,584.2 194.3,584.5 204.1,585.0 214.0,573.7 223.8,569.5 233.6,560.6 243.4,556.5 253.2,547.0 263.0,536.1 272.8,527.9 282.6,516.7 292.4,548.5 302.2,549.5 312.0,557.5 321.9,519.6 331.7,516.7 341.5,515.8 351.3,524.0 361.1,529.8 370.9,532.8 380.7,533.0 390.5,529.8 400.3,525.0 410.1,526.9 419.9,527.5 429.8,525.0 439.6,523.1 449.4,521.2 459.2,518.8 469.0,520.5 478.8,517.7 488.6,516.1 498.4,515.5 508.2,514.5"/>
<polyline fill="none" stroke="#00f" stroke-width="1" stroke-dasharray="10 6" points="57.0,584.5 66.8,582.9 76.6,577.2 86.4,569.9 96.2,568.6 106.1,566.7 115.9,570.2 125.7,573.7 135.5,579.4 145.3,582.0 155.1,583.2 164.9,583.2 174.7,583.9 184.5,584.2 194.3,584.5 204.1,585.0 214.0,573.7 223.8,569.5 233.6,560.6 243.4,556.5 253.2,547.0 263.0,536.1 272.8,527.9 282.6,516.7 292.4,548.5 302.2,549.5 312.0,557.5 321.9,519.6 331.7,516.7 341.5,515.8 351.3,524.0 361.1,529.8 370.9,532.8 380.7,533.0 390.5,529.8 400.3,525.0 410.1,526.9 419.9,527.5 429.8,525.0 439.6,523.1 449.4,521.2 459.2,518.8 469.0,520.5 478.8,517.7 488.6,516.1 498.4,515.5 508.2,514.5"/>
<g fill="none" stroke="#f22" stroke-width="0.85"><circle cx="57.0" cy="584.5" r="4.3"/><circle cx="66.8" cy="582.9" r="4.3"/><circle cx="76.6" cy="577.2" r="4.3"/><circle cx="86.4" cy="569.9" r="4.3"/><circle cx="96.2" cy="568.6" r="4.3"/><circle cx="106.1" cy="566.7" r="4.3"/><circle cx="115.9" cy="570.2" r="4.3"/><circle cx="125.7" cy="573.7" r="4.3"/><circle cx="135.5" cy="579.4" r="4.3"/><circle cx="145.3" cy="582.0" r="4.3"/><circle cx="155.1" cy="583.2" r="4.3"/><circle cx="164.9" cy="583.2" r="4.3"/><circle cx="174.7" cy="583.9" r="4.3"/><circle cx="184.5" cy="584.2" r="4.3"/><circle cx="194.3" cy="584.5" r="4.3"/><circle cx="204.1" cy="585.0" r="4.3"/><circle cx="214.0" cy="573.7" r="4.3"/><circle cx="223.8" cy="569.5" r="4.3"/><circle cx="233.6" cy="560.6" r="4.3"/><circle cx="243.4" cy="556.5" r="4.3"/><circle cx="253.2" cy="547.0" r="4.3"/><circle cx="263.0" cy="536.1" r="4.3"/><circle cx="272.8" cy="527.9" r="4.3"/><circle cx="282.6" cy="516.7" r="4.3"/><circle cx="292.4" cy="548.5" r="4.3"/><circle cx="302.2" cy="549.5" r="4.3"/><circle cx="312.0" cy="557.5" r="4.3"/><circle cx="321.9" cy="519.6" r="4.3"/><circle cx="331.7" cy="516.7" r="4.3"/><circle cx="341.5" cy="515.8" r="4.3"/><circle cx="351.3" cy="524.0" r="4.3"/><circle cx="361.1" cy="529.8" r="4.3"/><circle cx="370.9" cy="532.8" r="4.3"/><circle cx="380.7" cy="533.0" r="4.3"/><circle cx="390.5" cy="529.8" r="4.3"/><circle cx="400.3" cy="525.0" r="4.3"/><circle cx="410.1" cy="526.9" r="4.3"/><circle cx="419.9" cy="527.5" r="4.3"/><circle cx="429.8" cy="525.0" r="4.3"/><circle cx="439.6" cy="523.1" r="4.3"/><circle cx="449.4" cy="521.2" r="4.3"/><circle cx="459.2" cy="518.8" r="4.3"/><circle cx="469.0" cy="520.5" r="4.3"/><circle cx="478.8" cy="517.7" r="4.3"/><circle cx="488.6" cy="516.1" r="4.3"/><circle cx="498.4" cy="515.5" r="4.3"/><circle cx="508.2" cy="514.5" r="4.3"/></g>
<path fill="none" stroke="#00f" stroke-width="1.3" d="M52.6 584.5h8.8M57.0 580.1v8.8M62.4 582.9h8.8M66.8 578.5v8.8M72.2 577.2h8.8M76.6 572.8v8.8M82.0 569.9h8.8M86.4 565.5v8.8M91.8 568.6h8.8M96.2 564.2v8.8M101.7 566.7h8.8M106.1 562.3v8.8M111.5 570.2h8.8M115.9 565.8v8.8M121.3 573.7h8.8M125.7 569.3v8.8M131.1 579.4h8.8M135.5 575.0v8.8M140.9 582.0h8.8M145.3 577.6v8.8M150.7 583.2h8.8M155.1 578.8v8.8M160.5 583.2h8.8M164.9 578.8v8.8M170.3 583.9h8.8M174.7 579.5v8.8M180.1 584.2h8.8M184.5 579.8v8.8M189.9 584.5h8.8M194.3 580.1v8.8M199.7 585.0h8.8M204.1 580.6v8.8M209.6 573.7h8.8M214.0 569.3v8.8M219.4 569.5h8.8M223.8 565.1v8.8M229.2 560.6h8.8M233.6 556.2v8.8M239.0 556.5h8.8M243.4 552.1v8.8M248.8 547.0h8.8M253.2 542.6v8.8M258.6 536.1h8.8M263.0 531.7v8.8M268.4 527.9h8.8M272.8 523.5v8.8M278.2 516.7h8.8M282.6 512.3v8.8M288.0 548.5h8.8M292.4 544.1v8.8M297.8 549.5h8.8M302.2 545.1v8.8M307.6 557.5h8.8M312.0 553.1v8.8M317.5 519.6h8.8M321.9 515.2v8.8M327.3 516.7h8.8M331.7 512.3v8.8M337.1 515.8h8.8M341.5 511.4v8.8M346.9 524.0h8.8M351.3 519.6v8.8M356.7 529.8h8.8M361.1 525.4v8.8M366.5 532.8h8.8M370.9 528.4v8.8M376.3 533.0h8.8M380.7 528.6v8.8M386.1 529.8h8.8M390.5 525.4v8.8M395.9 525.0h8.8M400.3 520.6v8.8M405.7 526.9h8.8M410.1 522.5v8.8M415.5 527.5h8.8M419.9 523.1v8.8M425.4 525.0h8.8M429.8 520.6v8.8M435.2 523.1h8.8M439.6 518.7v8.8M445.0 521.2h8.8M449.4 516.8v8.8M454.8 518.8h8.8M459.2 514.4v8.8M464.6 520.5h8.8M469.0 516.1v8.8M474.4 517.7h8.8M478.8 513.3v8.8M484.2 516.1h8.8M488.6 511.7v8.8M494.0 515.5h8.8M498.4 511.1v8.8M503.8 514.5h8.8M508.2 510.1v8.8"/>
<rect x="47.2" y="514.3" width="490.45" height="70.90" fill="none" stroke="#383838" stroke-width="1"/>
<text transform="translate(144.80 542.70) scale(1.100 1)" font-size="13.100000000000001" text-anchor="middle" fill="#111">(e)</text>
<rect x="362.5" y="547.6" width="161.60" height="32.70" fill="#fff" stroke="#383838" stroke-width="1"/>
<path d="M367.0 556.7H412.5" stroke="#f00" stroke-width="1.1"/>
<circle cx="389.7" cy="556.7" r="4.2" fill="none" stroke="#f00" stroke-width="1"/>
<path d="M367.0 571.1h10.5M404.0 571.1H412.5" stroke="#00f" stroke-width="1.1"/>
<path d="M385.2 571.1h9M389.7 567.1v8" stroke="#00f" stroke-width="1.3"/>
<text transform="translate(415.50 560.96) scale(1.125 1)" font-size="10.2" text-anchor="start" fill="#2e2e2e">Fitting values</text>
<text transform="translate(415.50 575.38) scale(1.125 1)" font-size="10.2" text-anchor="start" fill="#2e2e2e">Experimental values</text>
</g>
<g id="panel6">
<text transform="translate(292.43 634.40) scale(1.141 1)" font-size="12.3" text-anchor="middle" fill="#111">Comparison of learning and testing K of neural network</text>
<text transform="translate(292.43 741.10) scale(1.195 1)" font-size="11.9" text-anchor="middle" fill="#111">Experiment</text>
<text transform="translate(23.46 673.85) rotate(-90) scale(1 1.4)" font-size="10.5" text-anchor="middle" fill="#111">K</text>
<text transform="translate(45.40 725.35) scale(1.100 1)" font-size="11.6" text-anchor="middle" fill="#2e2e2e">0</text>
<text transform="translate(94.55 725.35) scale(1.100 1)" font-size="11.6" text-anchor="middle" fill="#2e2e2e">5</text>
<text transform="translate(143.69 725.35) scale(1.100 1)" font-size="11.6" text-anchor="middle" fill="#2e2e2e">10</text>
<text transform="translate(192.83 725.35) scale(1.100 1)" font-size="11.6" text-anchor="middle" fill="#2e2e2e">15</text>
<text transform="translate(241.98 725.35) scale(1.100 1)" font-size="11.6" text-anchor="middle" fill="#2e2e2e">20</text>
<text transform="translate(291.12 725.35) scale(1.100 1)" font-size="11.6" text-anchor="middle" fill="#2e2e2e">25</text>
<text transform="translate(340.27 725.35) scale(1.100 1)" font-size="11.6" text-anchor="middle" fill="#2e2e2e">30</text>
<text transform="translate(389.41 725.35) scale(1.100 1)" font-size="11.6" text-anchor="middle" fill="#2e2e2e">35</text>
<text transform="translate(438.56 725.35) scale(1.100 1)" font-size="11.6" text-anchor="middle" fill="#2e2e2e">40</text>
<text transform="translate(487.70 725.35) scale(1.100 1)" font-size="11.6" text-anchor="middle" fill="#2e2e2e">45</text>
<text transform="translate(536.85 725.35) scale(1.100 1)" font-size="11.6" text-anchor="middle" fill="#2e2e2e">50</text>
<text transform="translate(42.50 696.25) scale(1.100 1)" font-size="11.6" text-anchor="end" fill="#2e2e2e">10</text>
<text transform="translate(42.50 670.05) scale(1.100 1)" font-size="11.6" text-anchor="end" fill="#2e2e2e">15</text>
<text transform="translate(42.50 643.65) scale(1.100 1)" font-size="11.6" text-anchor="end" fill="#2e2e2e">20</text>
<path d="M96.25 709.8v-4.6M96.25 638.9v4.6M145.29 709.8v-4.6M145.29 638.9v4.6M194.33 709.8v-4.6M194.33 638.9v4.6M243.38 709.8v-4.6M243.38 638.9v4.6M292.43 709.8v-4.6M292.43 638.9v4.6M341.47 709.8v-4.6M341.47 638.9v4.6M390.51 709.8v-4.6M390.51 638.9v4.6M439.56 709.8v-4.6M439.56 638.9v4.6M488.60 709.8v-4.6M488.60 638.9v4.6M47.2 691.3h4.6M537.65 691.3h-4.6M47.2 665.1h4.6M537.65 665.1h-4.6" stroke="#383838" stroke-width="1" fill="none"/>
<polyline fill="none" stroke="#f00" stroke-width="1" points="57.0,687.2 66.8,678.0 76.6,674.5 86.4,672.9 96.2,668.4 106.1,669.0 115.9,678.0 125.7,678.6 135.5,679.5 145.3,685.3 155.1,686.9 164.9,692.3 174.7,694.2 184.5,701.5 194.3,706.3 204.1,710.1 214.0,699.8 223.8,695.5 233.6,683.7 243.4,678.6 253.2,667.8 263.0,667.5 272.8,664.3 282.6,657.6 292.4,653.8 302.2,649.0 312.0,653.5 321.9,657.0 331.7,652.2 341.5,649.0 351.3,647.4 361.1,658.5 370.9,653.5 380.7,652.8 390.5,657.0 400.3,659.5 410.1,657.6 419.9,654.7 429.8,656.6 439.6,654.1 449.4,653.1 459.2,653.1 469.0,652.8 478.8,651.5 488.6,653.8 498.4,652.8 508.2,652.2"/>
<polyline fill="none" stroke="#00f" stroke-width="1" stroke-dasharray="10 6" points="57.0,687.2 66.8,678.0 76.6,674.5 86.4,672.9 96.2,668.4 106.1,669.0 115.9,678.0 125.7,678.6 135.5,679.5 145.3,685.3 155.1,686.9 164.9,692.3 174.7,694.2 184.5,701.5 194.3,706.3 204.1,710.1 214.0,699.8 223.8,695.5 233.6,683.7 243.4,678.6 253.2,667.8 263.0,667.5 272.8,664.3 282.6,657.6 292.4,653.8 302.2,649.0 312.0,653.5 321.9,657.0 331.7,652.2 341.5,649.0 351.3,647.4 361.1,658.5 370.9,653.5 380.7,652.8 390.5,657.0 400.3,659.5 410.1,657.6 419.9,654.7 429.8,656.6 439.6,654.1 449.4,653.1 459.2,653.1 469.0,652.8 478.8,651.5 488.6,653.8 498.4,652.8 508.2,652.2"/>
<g fill="none" stroke="#f22" stroke-width="0.85"><circle cx="57.0" cy="687.2" r="4.3"/><circle cx="66.8" cy="678.0" r="4.3"/><circle cx="76.6" cy="674.5" r="4.3"/><circle cx="86.4" cy="672.9" r="4.3"/><circle cx="96.2" cy="668.4" r="4.3"/><circle cx="106.1" cy="669.0" r="4.3"/><circle cx="115.9" cy="678.0" r="4.3"/><circle cx="125.7" cy="678.6" r="4.3"/><circle cx="135.5" cy="679.5" r="4.3"/><circle cx="145.3" cy="685.3" r="4.3"/><circle cx="155.1" cy="686.9" r="4.3"/><circle cx="164.9" cy="692.3" r="4.3"/><circle cx="174.7" cy="694.2" r="4.3"/><circle cx="184.5" cy="701.5" r="4.3"/><circle cx="194.3" cy="706.3" r="4.3"/><circle cx="204.1" cy="710.1" r="4.3"/><circle cx="214.0" cy="699.8" r="4.3"/><circle cx="223.8" cy="695.5" r="4.3"/><circle cx="233.6" cy="683.7" r="4.3"/><circle cx="243.4" cy="678.6" r="4.3"/><circle cx="253.2" cy="667.8" r="4.3"/><circle cx="263.0" cy="667.5" r="4.3"/><circle cx="272.8" cy="664.3" r="4.3"/><circle cx="282.6" cy="657.6" r="4.3"/><circle cx="292.4" cy="653.8" r="4.3"/><circle cx="302.2" cy="649.0" r="4.3"/><circle cx="312.0" cy="653.5" r="4.3"/><circle cx="321.9" cy="657.0" r="4.3"/><circle cx="331.7" cy="652.2" r="4.3"/><circle cx="341.5" cy="649.0" r="4.3"/><circle cx="351.3" cy="647.4" r="4.3"/><circle cx="361.1" cy="658.5" r="4.3"/><circle cx="370.9" cy="653.5" r="4.3"/><circle cx="380.7" cy="652.8" r="4.3"/><circle cx="390.5" cy="657.0" r="4.3"/><circle cx="400.3" cy="659.5" r="4.3"/><circle cx="410.1" cy="657.6" r="4.3"/><circle cx="419.9" cy="654.7" r="4.3"/><circle cx="429.8" cy="656.6" r="4.3"/><circle cx="439.6" cy="654.1" r="4.3"/><circle cx="449.4" cy="653.1" r="4.3"/><circle cx="459.2" cy="653.1" r="4.3"/><circle cx="469.0" cy="652.8" r="4.3"/><circle cx="478.8" cy="651.5" r="4.3"/><circle cx="488.6" cy="653.8" r="4.3"/><circle cx="498.4" cy="652.8" r="4.3"/><circle cx="508.2" cy="652.2" r="4.3"/></g>
<path fill="none" stroke="#00f" stroke-width="1.3" d="M52.6 687.2h8.8M57.0 682.8v8.8M62.4 678.0h8.8M66.8 673.6v8.8M72.2 674.5h8.8M76.6 670.1v8.8M82.0 672.9h8.8M86.4 668.5v8.8M91.8 668.4h8.8M96.2 664.0v8.8M101.7 669.0h8.8M106.1 664.6v8.8M111.5 678.0h8.8M115.9 673.6v8.8M121.3 678.6h8.8M125.7 674.2v8.8M131.1 679.5h8.8M135.5 675.1v8.8M140.9 685.3h8.8M145.3 680.9v8.8M150.7 686.9h8.8M155.1 682.5v8.8M160.5 692.3h8.8M164.9 687.9v8.8M170.3 694.2h8.8M174.7 689.8v8.8M180.1 701.5h8.8M184.5 697.1v8.8M189.9 706.3h8.8M194.3 701.9v8.8M199.7 710.1h8.8M204.1 705.7v8.8M209.6 699.8h8.8M214.0 695.4v8.8M219.4 695.5h8.8M223.8 691.1v8.8M229.2 683.7h8.8M233.6 679.3v8.8M239.0 678.6h8.8M243.4 674.2v8.8M248.8 667.8h8.8M253.2 663.4v8.8M258.6 667.5h8.8M263.0 663.1v8.8M268.4 664.3h8.8M272.8 659.9v8.8M278.2 657.6h8.8M282.6 653.2v8.8M288.0 653.8h8.8M292.4 649.4v8.8M297.8 649.0h8.8M302.2 644.6v8.8M307.6 653.5h8.8M312.0 649.1v8.8M317.5 657.0h8.8M321.9 652.6v8.8M327.3 652.2h8.8M331.7 647.8v8.8M337.1 649.0h8.8M341.5 644.6v8.8M346.9 647.4h8.8M351.3 643.0v8.8M356.7 658.5h8.8M361.1 654.1v8.8M366.5 653.5h8.8M370.9 649.1v8.8M376.3 652.8h8.8M380.7 648.4v8.8M386.1 657.0h8.8M390.5 652.6v8.8M395.9 659.5h8.8M400.3 655.1v8.8M405.7 657.6h8.8M410.1 653.2v8.8M415.5 654.7h8.8M419.9 650.3v8.8M425.4 656.6h8.8M429.8 652.2v8.8M435.2 654.1h8.8M439.6 649.7v8.8M445.0 653.1h8.8M449.4 648.7v8.8M454.8 653.1h8.8M459.2 648.7v8.8M464.6 652.8h8.8M469.0 648.4v8.8M474.4 651.5h8.8M478.8 647.1v8.8M484.2 653.8h8.8M488.6 649.4v8.8M494.0 652.8h8.8M498.4 648.4v8.8M503.8 652.2h8.8M508.2 647.8v8.8"/>
<rect x="47.2" y="638.9" width="490.45" height="70.90" fill="none" stroke="#383838" stroke-width="1"/>
<text transform="translate(167.60 665.10) scale(1.100 1)" font-size="13.100000000000001" text-anchor="middle" fill="#111">(f)</text>
<rect x="345.5" y="670.3" width="161.10" height="32.70" fill="#fff" stroke="#383838" stroke-width="1"/>
<path d="M350.0 679.4H395.5" stroke="#f00" stroke-width="1.1"/>
<circle cx="372.7" cy="679.4" r="4.2" fill="none" stroke="#f00" stroke-width="1"/>
<path d="M350.0 693.8h10.5M387.0 693.8H395.5" stroke="#00f" stroke-width="1.1"/>
<path d="M368.2 693.8h9M372.7 689.8v8" stroke="#00f" stroke-width="1.3"/>
<text transform="translate(398.50 683.66) scale(1.125 1)" font-size="10.2" text-anchor="start" fill="#2e2e2e">Fitting values</text>
<text transform="translate(398.50 698.08) scale(1.125 1)" font-size="10.2" text-anchor="start" fill="#2e2e2e">Experimental values</text>
</g>
<g id="panel7">
<text transform="translate(292.43 763.40) scale(1.088 1)" font-size="12.9" text-anchor="middle" fill="#111">Comparison of learning and testing pH of neural network</text>
<text transform="translate(292.43 876.10) scale(1.137 1)" font-size="12.5" text-anchor="middle" fill="#111">Experiment</text>
<text transform="translate(22.59 805.85) rotate(-90) scale(1 1.14)" font-size="12.1" text-anchor="middle" fill="#111">pH</text>
<text transform="translate(45.40 859.57) scale(1.100 1)" font-size="12.2" text-anchor="middle" fill="#2e2e2e">0</text>
<text transform="translate(94.55 859.57) scale(1.100 1)" font-size="12.2" text-anchor="middle" fill="#2e2e2e">5</text>
<text transform="translate(143.69 859.57) scale(1.100 1)" font-size="12.2" text-anchor="middle" fill="#2e2e2e">10</text>
<text transform="translate(192.83 859.57) scale(1.100 1)" font-size="12.2" text-anchor="middle" fill="#2e2e2e">15</text>
<text transform="translate(241.98 859.57) scale(1.100 1)" font-size="12.2" text-anchor="middle" fill="#2e2e2e">20</text>
<text transform="translate(291.12 859.57) scale(1.100 1)" font-size="12.2" text-anchor="middle" fill="#2e2e2e">25</text>
<text transform="translate(340.27 859.57) scale(1.100 1)" font-size="12.2" text-anchor="middle" fill="#2e2e2e">30</text>
<text transform="translate(389.41 859.57) scale(1.100 1)" font-size="12.2" text-anchor="middle" fill="#2e2e2e">35</text>
<text transform="translate(438.56 859.57) scale(1.100 1)" font-size="12.2" text-anchor="middle" fill="#2e2e2e">40</text>
<text transform="translate(487.70 859.57) scale(1.100 1)" font-size="12.2" text-anchor="middle" fill="#2e2e2e">45</text>
<text transform="translate(536.85 859.57) scale(1.100 1)" font-size="12.2" text-anchor="middle" fill="#2e2e2e">50</text>
<text transform="translate(42.50 838.27) scale(1.100 1)" font-size="12.2" text-anchor="end" fill="#2e2e2e">10</text>
<text transform="translate(42.50 806.07) scale(1.100 1)" font-size="12.2" text-anchor="end" fill="#2e2e2e">11</text>
<text transform="translate(42.50 773.47) scale(1.100 1)" font-size="12.2" text-anchor="end" fill="#2e2e2e">12</text>
<path d="M96.25 843.2v-4.6M96.25 768.5v4.6M145.29 843.2v-4.6M145.29 768.5v4.6M194.33 843.2v-4.6M194.33 768.5v4.6M243.38 843.2v-4.6M243.38 768.5v4.6M292.43 843.2v-4.6M292.43 768.5v4.6M341.47 843.2v-4.6M341.47 768.5v4.6M390.51 843.2v-4.6M390.51 768.5v4.6M439.56 843.2v-4.6M439.56 768.5v4.6M488.60 843.2v-4.6M488.60 768.5v4.6M47.2 833.1h4.6M537.65 833.1h-4.6M47.2 800.9h4.6M537.65 800.9h-4.6" stroke="#383838" stroke-width="1" fill="none"/>
<polyline fill="none" stroke="#f00" stroke-width="1" points="57.0,793.5 66.8,794.1 76.6,800.5 86.4,801.5 96.2,809.7 106.1,824.7 115.9,822.5 125.7,814.8 135.5,799.9 145.3,792.9 155.1,786.8 164.9,785.9 174.7,784.6 184.5,779.5 194.3,779.8 204.1,779.5 214.0,782.8 223.8,784.0 233.6,784.6 243.4,783.0 253.2,787.1 263.0,789.4 272.8,799.9 282.6,815.5 292.4,833.9 302.2,843.8 312.0,832.9 321.9,823.7 331.7,810.4 341.5,819.9 351.3,824.7 361.1,787.8 370.9,800.8 380.7,824.4 390.5,795.1 400.3,805.3 410.1,826.6 419.9,827.9 429.8,787.8 439.6,801.8 449.4,824.4 459.2,809.4 469.0,772.8 478.8,826.3 488.6,827.9 498.4,829.5 508.2,832.6"/>
<polyline fill="none" stroke="#00f" stroke-width="1" stroke-dasharray="10 6" points="57.0,793.5 66.8,794.1 76.6,800.5 86.4,801.5 96.2,809.7 106.1,824.7 115.9,822.5 125.7,814.8 135.5,799.9 145.3,792.9 155.1,786.8 164.9,785.9 174.7,784.6 184.5,779.5 194.3,779.8 204.1,779.5 214.0,782.8 223.8,784.0 233.6,784.6 243.4,783.0 253.2,787.1 263.0,789.4 272.8,799.9 282.6,815.5 292.4,833.9 302.2,843.8 312.0,832.9 321.9,823.7 331.7,825.8 341.5,819.9 351.3,824.7 361.1,787.8 370.9,800.8 380.7,824.4 390.5,795.1 400.3,805.3 410.1,826.6 419.9,827.9 429.8,787.8 439.6,801.8 449.4,824.4 459.2,795.1 469.0,772.8 478.8,826.3 488.6,827.9 498.4,829.5 508.2,832.6"/>
<g fill="none" stroke="#f22" stroke-width="0.85"><circle cx="57.0" cy="793.5" r="4.45"/><circle cx="66.8" cy="794.1" r="4.45"/><circle cx="76.6" cy="800.5" r="4.45"/><circle cx="86.4" cy="801.5" r="4.45"/><circle cx="96.2" cy="809.7" r="4.45"/><circle cx="106.1" cy="824.7" r="4.45"/><circle cx="115.9" cy="822.5" r="4.45"/><circle cx="125.7" cy="814.8" r="4.45"/><circle cx="135.5" cy="799.9" r="4.45"/><circle cx="145.3" cy="792.9" r="4.45"/><circle cx="155.1" cy="786.8" r="4.45"/><circle cx="164.9" cy="785.9" r="4.45"/><circle cx="174.7" cy="784.6" r="4.45"/><circle cx="184.5" cy="779.5" r="4.45"/><circle cx="194.3" cy="779.8" r="4.45"/><circle cx="204.1" cy="779.5" r="4.45"/><circle cx="214.0" cy="782.8" r="4.45"/><circle cx="223.8" cy="784.0" r="4.45"/><circle cx="233.6" cy="784.6" r="4.45"/><circle cx="243.4" cy="783.0" r="4.45"/><circle cx="253.2" cy="787.1" r="4.45"/><circle cx="263.0" cy="789.4" r="4.45"/><circle cx="272.8" cy="799.9" r="4.45"/><circle cx="282.6" cy="815.5" r="4.45"/><circle cx="292.4" cy="833.9" r="4.45"/><circle cx="302.2" cy="843.8" r="4.45"/><circle cx="312.0" cy="832.9" r="4.45"/><circle cx="321.9" cy="823.7" r="4.45"/><circle cx="331.7" cy="810.4" r="4.45"/><circle cx="341.5" cy="819.9" r="4.45"/><circle cx="351.3" cy="824.7" r="4.45"/><circle cx="361.1" cy="787.8" r="4.45"/><circle cx="370.9" cy="800.8" r="4.45"/><circle cx="380.7" cy="824.4" r="4.45"/><circle cx="390.5" cy="795.1" r="4.45"/><circle cx="400.3" cy="805.3" r="4.45"/><circle cx="410.1" cy="826.6" r="4.45"/><circle cx="419.9" cy="827.9" r="4.45"/><circle cx="429.8" cy="787.8" r="4.45"/><circle cx="439.6" cy="801.8" r="4.45"/><circle cx="449.4" cy="824.4" r="4.45"/><circle cx="459.2" cy="809.4" r="4.45"/><circle cx="469.0" cy="772.8" r="4.45"/><circle cx="478.8" cy="826.3" r="4.45"/><circle cx="488.6" cy="827.9" r="4.45"/><circle cx="498.4" cy="829.5" r="4.45"/><circle cx="508.2" cy="832.6" r="4.45"/></g>
<path fill="none" stroke="#00f" stroke-width="1.3" d="M52.6 793.5h8.8M57.0 789.1v8.8M62.4 794.1h8.8M66.8 789.7v8.8M72.2 800.5h8.8M76.6 796.1v8.8M82.0 801.5h8.8M86.4 797.1v8.8M91.8 809.7h8.8M96.2 805.3v8.8M101.7 824.7h8.8M106.1 820.3v8.8M111.5 822.5h8.8M115.9 818.1v8.8M121.3 814.8h8.8M125.7 810.4v8.8M131.1 799.9h8.8M135.5 795.5v8.8M140.9 792.9h8.8M145.3 788.5v8.8M150.7 786.8h8.8M155.1 782.4v8.8M160.5 785.9h8.8M164.9 781.5v8.8M170.3 784.6h8.8M174.7 780.2v8.8M180.1 779.5h8.8M184.5 775.1v8.8M189.9 779.8h8.8M194.3 775.4v8.8M199.7 779.5h8.8M204.1 775.1v8.8M209.6 782.8h8.8M214.0 778.4v8.8M219.4 784.0h8.8M223.8 779.6v8.8M229.2 784.6h8.8M233.6 780.2v8.8M239.0 783.0h8.8M243.4 778.6v8.8M248.8 787.1h8.8M253.2 782.7v8.8M258.6 789.4h8.8M263.0 785.0v8.8M268.4 799.9h8.8M272.8 795.5v8.8M278.2 815.5h8.8M282.6 811.1v8.8M288.0 833.9h8.8M292.4 829.5v8.8M297.8 843.8h8.8M302.2 839.4v8.8M307.6 832.9h8.8M312.0 828.5v8.8M317.5 823.7h8.8M321.9 819.3v8.8M327.3 825.8h8.8M331.7 821.4v8.8M337.1 819.9h8.8M341.5 815.5v8.8M346.9 824.7h8.8M351.3 820.3v8.8M356.7 787.8h8.8M361.1 783.4v8.8M366.5 800.8h8.8M370.9 796.4v8.8M376.3 824.4h8.8M380.7 820.0v8.8M386.1 795.1h8.8M390.5 790.7v8.8M395.9 805.3h8.8M400.3 800.9v8.8M405.7 826.6h8.8M410.1 822.2v8.8M415.5 827.9h8.8M419.9 823.5v8.8M425.4 787.8h8.8M429.8 783.4v8.8M435.2 801.8h8.8M439.6 797.4v8.8M445.0 824.4h8.8M449.4 820.0v8.8M454.8 795.1h8.8M459.2 790.7v8.8M464.6 772.8h8.8M469.0 768.4v8.8M474.4 826.3h8.8M478.8 821.9v8.8M484.2 827.9h8.8M488.6 823.5v8.8M494.0 829.5h8.8M498.4 825.1v8.8M503.8 832.6h8.8M508.2 828.2v8.8"/>
<rect x="47.2" y="768.5" width="490.45" height="74.70" fill="none" stroke="#383838" stroke-width="1"/>
<text transform="translate(110.10 797.30) scale(1.100 1)" font-size="13.700000000000001" text-anchor="middle" fill="#111">(g)</text>
<rect x="129.8" y="801.4" width="161.20" height="33.60" fill="#fff" stroke="#383838" stroke-width="1"/>
<path d="M134.3 810.7H179.8" stroke="#f00" stroke-width="1.1"/>
<circle cx="157.0" cy="810.7" r="4.2" fill="none" stroke="#f00" stroke-width="1"/>
<path d="M134.3 825.5h10.5M171.3 825.5H179.8" stroke="#00f" stroke-width="1.1"/>
<path d="M152.5 825.5h9M157.0 821.5v8" stroke="#00f" stroke-width="1.3"/>
<text transform="translate(182.40 815.31) scale(1.062 1)" font-size="10.8" text-anchor="start" fill="#2e2e2e">Fitting values</text>
<text transform="translate(182.40 830.12) scale(1.062 1)" font-size="10.8" text-anchor="start" fill="#2e2e2e">Experimental values</text>
</g>
<g id="panel8">
<text transform="translate(292.43 894.90) scale(1.088 1)" font-size="12.9" text-anchor="middle" fill="#111">Comparison of learning and testing ζ of neural network</text>
<text transform="translate(292.43 1006.50) scale(1.137 1)" font-size="12.5" text-anchor="middle" fill="#111">experiment</text>
<text transform="translate(18.23 937.05) rotate(-90) scale(1 1.28)" font-size="10.6" text-anchor="middle" fill="#111">ζ</text>
<text transform="translate(45.40 990.57) scale(1.100 1)" font-size="12.2" text-anchor="middle" fill="#2e2e2e">0</text>
<text transform="translate(94.55 990.57) scale(1.100 1)" font-size="12.2" text-anchor="middle" fill="#2e2e2e">5</text>
<text transform="translate(143.69 990.57) scale(1.100 1)" font-size="12.2" text-anchor="middle" fill="#2e2e2e">10</text>
<text transform="translate(192.83 990.57) scale(1.100 1)" font-size="12.2" text-anchor="middle" fill="#2e2e2e">15</text>
<text transform="translate(241.98 990.57) scale(1.100 1)" font-size="12.2" text-anchor="middle" fill="#2e2e2e">20</text>
<text transform="translate(291.12 990.57) scale(1.100 1)" font-size="12.2" text-anchor="middle" fill="#2e2e2e">25</text>
<text transform="translate(340.27 990.57) scale(1.100 1)" font-size="12.2" text-anchor="middle" fill="#2e2e2e">30</text>
<text transform="translate(389.41 990.57) scale(1.100 1)" font-size="12.2" text-anchor="middle" fill="#2e2e2e">35</text>
<text transform="translate(438.56 990.57) scale(1.100 1)" font-size="12.2" text-anchor="middle" fill="#2e2e2e">40</text>
<text transform="translate(487.70 990.57) scale(1.100 1)" font-size="12.2" text-anchor="middle" fill="#2e2e2e">45</text>
<text transform="translate(536.85 990.57) scale(1.100 1)" font-size="12.2" text-anchor="middle" fill="#2e2e2e">50</text>
<text transform="translate(42.50 974.97) scale(1.100 1)" font-size="12.2" text-anchor="end" fill="#2e2e2e">-20</text>
<text transform="translate(42.50 939.77) scale(1.100 1)" font-size="12.2" text-anchor="end" fill="#2e2e2e">-10</text>
<text transform="translate(42.50 905.27) scale(1.100 1)" font-size="12.2" text-anchor="end" fill="#2e2e2e">0</text>
<path d="M96.25 975.0v-4.6M96.25 900.3v4.6M145.29 975.0v-4.6M145.29 900.3v4.6M194.33 975.0v-4.6M194.33 900.3v4.6M243.38 975.0v-4.6M243.38 900.3v4.6M292.43 975.0v-4.6M292.43 900.3v4.6M341.47 975.0v-4.6M341.47 900.3v4.6M390.51 975.0v-4.6M390.51 900.3v4.6M439.56 975.0v-4.6M439.56 900.3v4.6M488.60 975.0v-4.6M488.60 900.3v4.6M47.2 969.8h4.6M537.65 969.8h-4.6M47.2 934.6h4.6M537.65 934.6h-4.6" stroke="#383838" stroke-width="1" fill="none"/>
<polyline fill="none" stroke="#f00" stroke-width="1" points="57.0,965.7 66.8,970.2 76.6,967.3 86.4,965.4 96.2,961.6 106.1,959.7 115.9,930.4 125.7,931.0 135.5,932.6 145.3,933.0 155.1,933.0 164.9,947.0 174.7,948.5 184.5,950.5 194.3,964.1 204.1,964.8 214.0,927.3 223.8,927.5 233.6,922.1 243.4,919.3 253.2,918.6 263.0,975.3 272.8,945.4 282.6,926.6 292.4,923.4 302.2,912.6 312.0,952.0 321.9,952.7 331.7,949.2 341.5,958.1 351.3,958.1 361.1,956.2 370.9,955.2 380.7,953.0 390.5,953.0 400.3,949.2 410.1,949.2 419.9,948.9 429.8,948.9 439.6,948.2 449.4,947.3 459.2,949.8 469.0,946.0 478.8,944.7 488.6,942.5 498.4,941.2 508.2,938.4"/>
<polyline fill="none" stroke="#00f" stroke-width="1" stroke-dasharray="10 6" points="57.0,965.7 66.8,970.2 76.6,967.3 86.4,965.4 96.2,961.6 106.1,959.7 115.9,930.4 125.7,931.0 135.5,932.6 145.3,933.0 155.1,933.0 164.9,947.0 174.7,948.5 184.5,950.5 194.3,964.1 204.1,964.8 214.0,927.3 223.8,927.5 233.6,922.1 243.4,919.3 253.2,918.6 263.0,975.3 272.8,945.4 282.6,926.6 292.4,923.4 302.2,912.6 312.0,952.0 321.9,952.7 331.7,954.3 341.5,958.1 351.3,958.1 361.1,956.2 370.9,955.2 380.7,953.0 390.5,953.0 400.3,949.2 410.1,949.2 419.9,948.9 429.8,948.9 439.6,948.2 449.4,947.3 459.2,946.0 469.0,946.0 478.8,944.7 488.6,942.5 498.4,941.2 508.2,938.4"/>
<g fill="none" stroke="#f22" stroke-width="0.85"><circle cx="57.0" cy="965.7" r="4.45"/><circle cx="66.8" cy="970.2" r="4.45"/><circle cx="76.6" cy="967.3" r="4.45"/><circle cx="86.4" cy="965.4" r="4.45"/><circle cx="96.2" cy="961.6" r="4.45"/><circle cx="106.1" cy="959.7" r="4.45"/><circle cx="115.9" cy="930.4" r="4.45"/><circle cx="125.7" cy="931.0" r="4.45"/><circle cx="135.5" cy="932.6" r="4.45"/><circle cx="145.3" cy="933.0" r="4.45"/><circle cx="155.1" cy="933.0" r="4.45"/><circle cx="164.9" cy="947.0" r="4.45"/><circle cx="174.7" cy="948.5" r="4.45"/><circle cx="184.5" cy="950.5" r="4.45"/><circle cx="194.3" cy="964.1" r="4.45"/><circle cx="204.1" cy="964.8" r="4.45"/><circle cx="214.0" cy="927.3" r="4.45"/><circle cx="223.8" cy="927.5" r="4.45"/><circle cx="233.6" cy="922.1" r="4.45"/><circle cx="243.4" cy="919.3" r="4.45"/><circle cx="253.2" cy="918.6" r="4.45"/><circle cx="263.0" cy="975.3" r="4.45"/><circle cx="272.8" cy="945.4" r="4.45"/><circle cx="282.6" cy="926.6" r="4.45"/><circle cx="292.4" cy="923.4" r="4.45"/><circle cx="302.2" cy="912.6" r="4.45"/><circle cx="312.0" cy="952.0" r="4.45"/><circle cx="321.9" cy="952.7" r="4.45"/><circle cx="331.7" cy="949.2" r="4.45"/><circle cx="341.5" cy="958.1" r="4.45"/><circle cx="351.3" cy="958.1" r="4.45"/><circle cx="361.1" cy="956.2" r="4.45"/><circle cx="370.9" cy="955.2" r="4.45"/><circle cx="380.7" cy="953.0" r="4.45"/><circle cx="390.5" cy="953.0" r="4.45"/><circle cx="400.3" cy="949.2" r="4.45"/><circle cx="410.1" cy="949.2" r="4.45"/><circle cx="419.9" cy="948.9" r="4.45"/><circle cx="429.8" cy="948.9" r="4.45"/><circle cx="439.6" cy="948.2" r="4.45"/><circle cx="449.4" cy="947.3" r="4.45"/><circle cx="459.2" cy="949.8" r="4.45"/><circle cx="469.0" cy="946.0" r="4.45"/><circle cx="478.8" cy="944.7" r="4.45"/><circle cx="488.6" cy="942.5" r="4.45"/><circle cx="498.4" cy="941.2" r="4.45"/><circle cx="508.2" cy="938.4" r="4.45"/></g>
<path fill="none" stroke="#00f" stroke-width="1.3" d="M52.6 965.7h8.8M57.0 961.3v8.8M62.4 970.2h8.8M66.8 965.8v8.8M72.2 967.3h8.8M76.6 962.9v8.8M82.0 965.4h8.8M86.4 961.0v8.8M91.8 961.6h8.8M96.2 957.2v8.8M101.7 959.7h8.8M106.1 955.3v8.8M111.5 930.4h8.8M115.9 926.0v8.8M121.3 931.0h8.8M125.7 926.6v8.8M131.1 932.6h8.8M135.5 928.2v8.8M140.9 933.0h8.8M145.3 928.6v8.8M150.7 933.0h8.8M155.1 928.6v8.8M160.5 947.0h8.8M164.9 942.6v8.8M170.3 948.5h8.8M174.7 944.1v8.8M180.1 950.5h8.8M184.5 946.1v8.8M189.9 964.1h8.8M194.3 959.7v8.8M199.7 964.8h8.8M204.1 960.4v8.8M209.6 927.3h8.8M214.0 922.9v8.8M219.4 927.5h8.8M223.8 923.1v8.8M229.2 922.1h8.8M233.6 917.7v8.8M239.0 919.3h8.8M243.4 914.9v8.8M248.8 918.6h8.8M253.2 914.2v8.8M258.6 975.3h8.8M263.0 970.9v8.8M268.4 945.4h8.8M272.8 941.0v8.8M278.2 926.6h8.8M282.6 922.2v8.8M288.0 923.4h8.8M292.4 919.0v8.8M297.8 912.6h8.8M302.2 908.2v8.8M307.6 952.0h8.8M312.0 947.6v8.8M317.5 952.7h8.8M321.9 948.3v8.8M327.3 954.3h8.8M331.7 949.9v8.8M337.1 958.1h8.8M341.5 953.7v8.8M346.9 958.1h8.8M351.3 953.7v8.8M356.7 956.2h8.8M361.1 951.8v8.8M366.5 955.2h8.8M370.9 950.8v8.8M376.3 953.0h8.8M380.7 948.6v8.8M386.1 953.0h8.8M390.5 948.6v8.8M395.9 949.2h8.8M400.3 944.8v8.8M405.7 949.2h8.8M410.1 944.8v8.8M415.5 948.9h8.8M419.9 944.5v8.8M425.4 948.9h8.8M429.8 944.5v8.8M435.2 948.2h8.8M439.6 943.8v8.8M445.0 947.3h8.8M449.4 942.9v8.8M454.8 946.0h8.8M459.2 941.6v8.8M464.6 946.0h8.8M469.0 941.6v8.8M474.4 944.7h8.8M478.8 940.3v8.8M484.2 942.5h8.8M488.6 938.1v8.8M494.0 941.2h8.8M498.4 936.8v8.8M503.8 938.4h8.8M508.2 934.0v8.8"/>
<rect x="47.2" y="900.3" width="490.45" height="74.70" fill="none" stroke="#383838" stroke-width="1"/>
<text transform="translate(79.80 931.90) scale(1.100 1)" font-size="13.700000000000001" text-anchor="middle" fill="#111">(h)</text>
<rect x="319.1" y="904.3" width="161.90" height="33.70" fill="#fff" stroke="#383838" stroke-width="1"/>
<path d="M323.6 913.6H369.1" stroke="#f00" stroke-width="1.1"/>
<circle cx="346.3" cy="913.6" r="4.2" fill="none" stroke="#f00" stroke-width="1"/>
<path d="M323.6 928.5h10.5M360.6 928.5H369.1" stroke="#00f" stroke-width="1.1"/>
<path d="M341.8 928.5h9M346.3 924.5v8" stroke="#00f" stroke-width="1.3"/>
<text transform="translate(371.70 918.23) scale(1.062 1)" font-size="10.8" text-anchor="start" fill="#2e2e2e">Fitting values</text>
<text transform="translate(371.70 933.10) scale(1.062 1)" font-size="10.8" text-anchor="start" fill="#2e2e2e">Experimental values</text>
</g>
<g id="panel9">
<text transform="translate(292.43 1026.60) scale(1.088 1)" font-size="12.9" text-anchor="middle" fill="#111">Comparison of learning and testing θ of neural network</text>
<text transform="translate(292.43 1139.20) scale(1.137 1)" font-size="12.5" text-anchor="middle" fill="#111">Experiment</text>
<text transform="translate(22.73 1068.65) rotate(-90) scale(1 1.17)" font-size="11.3" text-anchor="middle" fill="#111">θ</text>
<text transform="translate(45.40 1122.97) scale(1.100 1)" font-size="12.2" text-anchor="middle" fill="#2e2e2e">0</text>
<text transform="translate(94.55 1122.97) scale(1.100 1)" font-size="12.2" text-anchor="middle" fill="#2e2e2e">5</text>
<text transform="translate(143.69 1122.97) scale(1.100 1)" font-size="12.2" text-anchor="middle" fill="#2e2e2e">10</text>
<text transform="translate(192.83 1122.97) scale(1.100 1)" font-size="12.2" text-anchor="middle" fill="#2e2e2e">15</text>
<text transform="translate(241.98 1122.97) scale(1.100 1)" font-size="12.2" text-anchor="middle" fill="#2e2e2e">20</text>
<text transform="translate(291.12 1122.97) scale(1.100 1)" font-size="12.2" text-anchor="middle" fill="#2e2e2e">25</text>
<text transform="translate(340.27 1122.97) scale(1.100 1)" font-size="12.2" text-anchor="middle" fill="#2e2e2e">30</text>
<text transform="translate(389.41 1122.97) scale(1.100 1)" font-size="12.2" text-anchor="middle" fill="#2e2e2e">35</text>
<text transform="translate(438.56 1122.97) scale(1.100 1)" font-size="12.2" text-anchor="middle" fill="#2e2e2e">40</text>
<text transform="translate(487.70 1122.97) scale(1.100 1)" font-size="12.2" text-anchor="middle" fill="#2e2e2e">45</text>
<text transform="translate(536.85 1122.97) scale(1.100 1)" font-size="12.2" text-anchor="middle" fill="#2e2e2e">50</text>
<text transform="translate(42.50 1088.57) scale(1.100 1)" font-size="12.2" text-anchor="end" fill="#2e2e2e">10</text>
<text transform="translate(42.50 1063.17) scale(1.100 1)" font-size="12.2" text-anchor="end" fill="#2e2e2e">15</text>
<text transform="translate(42.50 1037.07) scale(1.100 1)" font-size="12.2" text-anchor="end" fill="#2e2e2e">20</text>
<path d="M96.25 1106.6v-4.6M96.25 1032.1v4.6M145.29 1106.6v-4.6M145.29 1032.1v4.6M194.33 1106.6v-4.6M194.33 1032.1v4.6M243.38 1106.6v-4.6M243.38 1032.1v4.6M292.43 1106.6v-4.6M292.43 1032.1v4.6M341.47 1106.6v-4.6M341.47 1032.1v4.6M390.51 1106.6v-4.6M390.51 1032.1v4.6M439.56 1106.6v-4.6M439.56 1032.1v4.6M488.60 1106.6v-4.6M488.60 1032.1v4.6M47.2 1083.4h4.6M537.65 1083.4h-4.6M47.2 1058.0h4.6M537.65 1058.0h-4.6" stroke="#383838" stroke-width="1" fill="none"/>
<polyline fill="none" stroke="#f00" stroke-width="1" points="57.0,1061.1 66.8,1066.9 76.6,1067.2 86.4,1077.4 96.2,1084.4 106.1,1085.6 115.9,1075.1 125.7,1071.0 135.5,1058.9 145.3,1056.4 155.1,1054.5 164.9,1053.8 174.7,1049.7 184.5,1048.1 194.3,1046.8 204.1,1036.6 214.0,1080.5 223.8,1080.5 233.6,1088.2 243.4,1100.6 253.2,1106.6 263.0,1078.3 272.8,1058.0 282.6,1083.4 292.4,1084.4 302.2,1093.3 312.0,1074.5 321.9,1081.5 331.7,1093.9 341.5,1092.6 351.3,1095.8 361.1,1094.2 370.9,1096.8 380.7,1096.8 390.5,1096.1 400.3,1098.4 410.1,1098.7 419.9,1098.0 429.8,1097.4 439.6,1099.6 449.4,1099.6 459.2,1094.9 469.0,1098.4 478.8,1101.2 488.6,1101.9 498.4,1101.9 508.2,1102.2"/>
<polyline fill="none" stroke="#00f" stroke-width="1" stroke-dasharray="10 6" points="57.0,1061.1 66.8,1066.9 76.6,1067.2 86.4,1077.4 96.2,1084.4 106.1,1085.6 115.9,1075.1 125.7,1071.0 135.5,1058.9 145.3,1056.4 155.1,1054.5 164.9,1053.8 174.7,1049.7 184.5,1048.1 194.3,1046.8 204.1,1036.6 214.0,1080.5 223.8,1080.5 233.6,1088.2 243.4,1100.6 253.2,1106.6 263.0,1078.3 272.8,1058.0 282.6,1083.4 292.4,1084.4 302.2,1093.3 312.0,1074.5 321.9,1081.5 331.7,1091.4 341.5,1092.6 351.3,1095.8 361.1,1094.2 370.9,1096.8 380.7,1096.8 390.5,1096.1 400.3,1098.4 410.1,1098.7 419.9,1098.0 429.8,1097.4 439.6,1099.6 449.4,1099.6 459.2,1097.1 469.0,1098.4 478.8,1101.2 488.6,1101.9 498.4,1101.9 508.2,1102.2"/>
<g fill="none" stroke="#f22" stroke-width="0.85"><circle cx="57.0" cy="1061.1" r="4.45"/><circle cx="66.8" cy="1066.9" r="4.45"/><circle cx="76.6" cy="1067.2" r="4.45"/><circle cx="86.4" cy="1077.4" r="4.45"/><circle cx="96.2" cy="1084.4" r="4.45"/><circle cx="106.1" cy="1085.6" r="4.45"/><circle cx="115.9" cy="1075.1" r="4.45"/><circle cx="125.7" cy="1071.0" r="4.45"/><circle cx="135.5" cy="1058.9" r="4.45"/><circle cx="145.3" cy="1056.4" r="4.45"/><circle cx="155.1" cy="1054.5" r="4.45"/><circle cx="164.9" cy="1053.8" r="4.45"/><circle cx="174.7" cy="1049.7" r="4.45"/><circle cx="184.5" cy="1048.1" r="4.45"/><circle cx="194.3" cy="1046.8" r="4.45"/><circle cx="204.1" cy="1036.6" r="4.45"/><circle cx="214.0" cy="1080.5" r="4.45"/><circle cx="223.8" cy="1080.5" r="4.45"/><circle cx="233.6" cy="1088.2" r="4.45"/><circle cx="243.4" cy="1100.6" r="4.45"/><circle cx="253.2" cy="1106.6" r="4.45"/><circle cx="263.0" cy="1078.3" r="4.45"/><circle cx="272.8" cy="1058.0" r="4.45"/><circle cx="282.6" cy="1083.4" r="4.45"/><circle cx="292.4" cy="1084.4" r="4.45"/><circle cx="302.2" cy="1093.3" r="4.45"/><circle cx="312.0" cy="1074.5" r="4.45"/><circle cx="321.9" cy="1081.5" r="4.45"/><circle cx="331.7" cy="1093.9" r="4.45"/><circle cx="341.5" cy="1092.6" r="4.45"/><circle cx="351.3" cy="1095.8" r="4.45"/><circle cx="361.1" cy="1094.2" r="4.45"/><circle cx="370.9" cy="1096.8" r="4.45"/><circle cx="380.7" cy="1096.8" r="4.45"/><circle cx="390.5" cy="1096.1" r="4.45"/><circle cx="400.3" cy="1098.4" r="4.45"/><circle cx="410.1" cy="1098.7" r="4.45"/><circle cx="419.9" cy="1098.0" r="4.45"/><circle cx="429.8" cy="1097.4" r="4.45"/><circle cx="439.6" cy="1099.6" r="4.45"/><circle cx="449.4" cy="1099.6" r="4.45"/><circle cx="459.2" cy="1094.9" r="4.45"/><circle cx="469.0" cy="1098.4" r="4.45"/><circle cx="478.8" cy="1101.2" r="4.45"/><circle cx="488.6" cy="1101.9" r="4.45"/><circle cx="498.4" cy="1101.9" r="4.45"/><circle cx="508.2" cy="1102.2" r="4.45"/></g>
<path fill="none" stroke="#00f" stroke-width="1.3" d="M52.6 1061.1h8.8M57.0 1056.7v8.8M62.4 1066.9h8.8M66.8 1062.5v8.8M72.2 1067.2h8.8M76.6 1062.8v8.8M82.0 1077.4h8.8M86.4 1073.0v8.8M91.8 1084.4h8.8M96.2 1080.0v8.8M101.7 1085.6h8.8M106.1 1081.2v8.8M111.5 1075.1h8.8M115.9 1070.7v8.8M121.3 1071.0h8.8M125.7 1066.6v8.8M131.1 1058.9h8.8M135.5 1054.5v8.8M140.9 1056.4h8.8M145.3 1052.0v8.8M150.7 1054.5h8.8M155.1 1050.1v8.8M160.5 1053.8h8.8M164.9 1049.4v8.8M170.3 1049.7h8.8M174.7 1045.3v8.8M180.1 1048.1h8.8M184.5 1043.7v8.8M189.9 1046.8h8.8M194.3 1042.4v8.8M199.7 1036.6h8.8M204.1 1032.2v8.8M209.6 1080.5h8.8M214.0 1076.1v8.8M219.4 1080.5h8.8M223.8 1076.1v8.8M229.2 1088.2h8.8M233.6 1083.8v8.8M239.0 1100.6h8.8M243.4 1096.2v8.8M248.8 1106.6h8.8M253.2 1102.2v8.8M258.6 1078.3h8.8M263.0 1073.9v8.8M268.4 1058.0h8.8M272.8 1053.6v8.8M278.2 1083.4h8.8M282.6 1079.0v8.8M288.0 1084.4h8.8M292.4 1080.0v8.8M297.8 1093.3h8.8M302.2 1088.9v8.8M307.6 1074.5h8.8M312.0 1070.1v8.8M317.5 1081.5h8.8M321.9 1077.1v8.8M327.3 1091.4h8.8M331.7 1087.0v8.8M337.1 1092.6h8.8M341.5 1088.2v8.8M346.9 1095.8h8.8M351.3 1091.4v8.8M356.7 1094.2h8.8M361.1 1089.8v8.8M366.5 1096.8h8.8M370.9 1092.4v8.8M376.3 1096.8h8.8M380.7 1092.4v8.8M386.1 1096.1h8.8M390.5 1091.7v8.8M395.9 1098.4h8.8M400.3 1094.0v8.8M405.7 1098.7h8.8M410.1 1094.3v8.8M415.5 1098.0h8.8M419.9 1093.6v8.8M425.4 1097.4h8.8M429.8 1093.0v8.8M435.2 1099.6h8.8M439.6 1095.2v8.8M445.0 1099.6h8.8M449.4 1095.2v8.8M454.8 1097.1h8.8M459.2 1092.7v8.8M464.6 1098.4h8.8M469.0 1094.0v8.8M474.4 1101.2h8.8M478.8 1096.8v8.8M484.2 1101.9h8.8M488.6 1097.5v8.8M494.0 1101.9h8.8M498.4 1097.5v8.8M503.8 1102.2h8.8M508.2 1097.8v8.8"/>
<rect x="47.2" y="1032.1" width="490.45" height="74.50" fill="none" stroke="#383838" stroke-width="1"/>
<text transform="translate(94.90 1062.50) scale(1.100 1)" font-size="13.700000000000001" text-anchor="middle" fill="#111">(i)</text>
<rect x="344.3" y="1041.4" width="161.60" height="34.00" fill="#fff" stroke="#383838" stroke-width="1"/>
<path d="M348.8 1050.8H394.3" stroke="#f00" stroke-width="1.1"/>
<circle cx="371.5" cy="1050.8" r="4.2" fill="none" stroke="#f00" stroke-width="1"/>
<path d="M348.8 1065.8h10.5M385.8 1065.8H394.3" stroke="#00f" stroke-width="1.1"/>
<path d="M367.0 1065.8h9M371.5 1061.8v8" stroke="#00f" stroke-width="1.3"/>
<text transform="translate(396.90 1055.42) scale(1.062 1)" font-size="10.8" text-anchor="start" fill="#2e2e2e">Fitting values</text>
<text transform="translate(396.90 1070.41) scale(1.062 1)" font-size="10.8" text-anchor="start" fill="#2e2e2e">Experimental values</text>
</g>
</g>
</svg>
</body></html>
